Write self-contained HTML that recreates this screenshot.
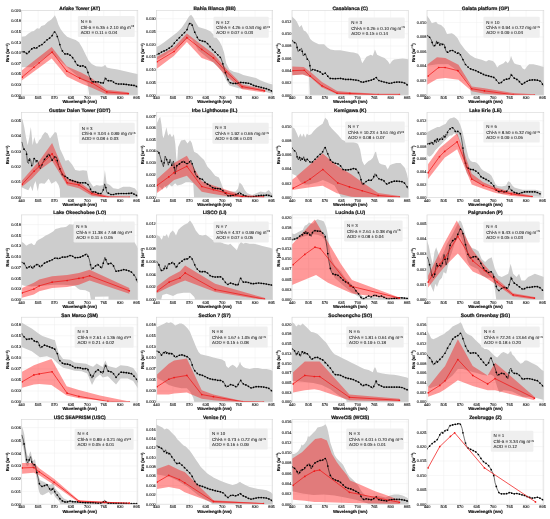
<!DOCTYPE html>
<html><head><meta charset="utf-8"><title>Rrs comparison</title><style>
*{margin:0;padding:0}
html,body{width:550px;height:519px;overflow:hidden;background:#fff}
svg{display:block}
text{font-family:"Liberation Sans",Arial,sans-serif;text-rendering:geometricPrecision}
.tt{font-size:4.88px;font-weight:bold;text-anchor:middle;fill:#111;stroke:#111;stroke-width:0.2}
.yk{font-size:3.9px;text-anchor:end;fill:#222;stroke:#222;stroke-width:0.12}
.xk{font-size:3.9px;text-anchor:middle;fill:#222;stroke:#222;stroke-width:0.12}
.xl{font-size:4.3px;font-weight:bold;text-anchor:middle;fill:#111;stroke:#111;stroke-width:0.15}
.yl{font-size:4.3px;font-weight:bold;text-anchor:middle;fill:#111;stroke:#111;stroke-width:0.15}
.lg{font-size:4.45px;fill:#1a1a1a;stroke:#1a1a1a;stroke-width:0.05}
</style></head><body>
<svg width="550" height="519" viewBox="0 0 550 519">
<rect width="550" height="519" fill="#fff"/>
<defs>
<clipPath id="c1"><rect x="21.5" y="10.3" width="116.3" height="84.8"/></clipPath>
<clipPath id="c2"><rect x="156.4" y="10.3" width="116.3" height="84.8"/></clipPath>
<clipPath id="c3"><rect x="292" y="10.3" width="116.3" height="84.8"/></clipPath>
<clipPath id="c4"><rect x="427" y="10.3" width="116.8" height="84.8"/></clipPath>
<clipPath id="c5"><rect x="21.5" y="112.6" width="116.3" height="84.8"/></clipPath>
<clipPath id="c6"><rect x="156.4" y="112.6" width="116.3" height="84.8"/></clipPath>
<clipPath id="c7"><rect x="292" y="112.6" width="116.3" height="84.8"/></clipPath>
<clipPath id="c8"><rect x="427" y="112.6" width="116.8" height="84.8"/></clipPath>
<clipPath id="c9"><rect x="21.5" y="214.9" width="116.3" height="84.8"/></clipPath>
<clipPath id="c10"><rect x="156.4" y="214.9" width="116.3" height="84.8"/></clipPath>
<clipPath id="c11"><rect x="292" y="214.9" width="116.3" height="84.8"/></clipPath>
<clipPath id="c12"><rect x="427" y="214.9" width="116.8" height="84.8"/></clipPath>
<clipPath id="c13"><rect x="21.5" y="317.2" width="116.3" height="84.8"/></clipPath>
<clipPath id="c14"><rect x="156.4" y="317.2" width="116.3" height="84.8"/></clipPath>
<clipPath id="c15"><rect x="292" y="317.2" width="116.3" height="84.8"/></clipPath>
<clipPath id="c16"><rect x="427" y="317.2" width="116.8" height="84.8"/></clipPath>
<clipPath id="c17"><rect x="21.5" y="419.4" width="116.3" height="84.8"/></clipPath>
<clipPath id="c18"><rect x="156.4" y="419.4" width="116.3" height="84.8"/></clipPath>
<clipPath id="c19"><rect x="292" y="419.4" width="116.3" height="84.8"/></clipPath>
<clipPath id="c20"><rect x="427" y="419.4" width="116.8" height="84.8"/></clipPath>
</defs>
<g>
<rect x="21.5" y="10.3" width="116.3" height="84.8" fill="#fff"/>
<path d="M21.7 10.3V95.1M38.11 10.3V95.1M54.52 10.3V95.1M70.94 10.3V95.1M87.35 10.3V95.1M103.76 10.3V95.1M120.17 10.3V95.1M136.58 10.3V95.1M21.5 10.5H137.8M21.5 21.07H137.8M21.5 31.65H137.8M21.5 42.22H137.8M21.5 52.8H137.8M21.5 63.38H137.8M21.5 73.95H137.8M21.5 84.52H137.8M21.5 95.1H137.8" stroke="#eeeeee" stroke-width="0.5" fill="none"/>
<g clip-path="url(#c1)">
<path d="M21 36.81 L25.29 36.16 L28.51 33.59 L31.73 31.45 L33.87 31.02 L37.09 28.23 L39.24 28.87 L41.38 26.08 L44.6 25.01 L47.82 21.8 L51.04 19.65 L53.18 17.51 L54.9 15.36 L56.4 18.58 L58.55 25.01 L60.69 29.3 L63.91 33.59 L67.13 36.81 L71.42 38.52 L75.71 40.02 L78.93 42.17 L82.15 47.53 L85.36 53.97 L88.58 60.4 L91.8 64.04 L96.09 66.19 L101.45 66.83 L103.6 66.19 L105.1 64.69 L106.82 67.48 L111.11 68.55 L117.55 69.62 L123.98 71.12 L130.42 72.62 L139 74.34 L139 100.07 L89.87 100.07 L87.51 82.92 L81.07 79.27 L64.77 65.12 L51.68 53.11 L42.88 59.11 L31.94 67.26 L21 67.26 Z" fill="#cdcdcd"/>
<path d="M21 71.12 L51.68 47.1 L66.7 66.19 L81.07 72.62 L91.8 78.2 L106.82 89.78 L128.27 92.35 L128.27 95.36 L106.82 94.5 L91.8 87.64 L81.07 83.56 L66.7 76.48 L51.68 58.47 L21 80.99 Z" fill="#ff0000" fill-opacity="0.4"/>
<path d="M21 51.82 L24.22 51.82 L27.44 53.97 L30.65 49.68 L33.87 47.53 L36.02 48.6 L38.16 46.46 L40.31 45.39 L42.45 44.31 L44.6 42.17 L46.75 40.02 L49.96 37.88 L52.11 35.74 L54.25 31.45 L56.4 34.02 L58.55 40.02 L60.69 47.53 L62.84 51.82 L64.98 53.97 L68.2 53.97 L71.42 56.11 L74.64 60.4 L76.78 64.69 L80 66.19 L83.22 65.76 L86.44 67.91 L88.58 74.34 L91.8 81.85 L95.02 81.85 L98.24 81.85 L101.45 82.92 L103.6 82.92 L105.1 77.56 L106.82 80.34 L108.96 80.77 L112.18 80.77 L114.33 82.92 L117.55 83.99 L121.84 83.99 L126.13 84.42 L130.42 85.06 L134.71 85.49 L137.93 87.21" stroke="#000" stroke-width="0.55" fill="none" stroke-linejoin="round"/>
<g fill="#000"><circle cx="21.5" cy="51.82" r="0.85"/><circle cx="24.06" cy="51.82" r="0.85"/><circle cx="26.61" cy="53.42" r="0.85"/><circle cx="29.17" cy="51.66" r="0.85"/><circle cx="31.72" cy="48.96" r="0.85"/><circle cx="34.28" cy="47.73" r="0.85"/><circle cx="36.84" cy="47.79" r="0.85"/><circle cx="39.39" cy="45.84" r="0.85"/><circle cx="41.95" cy="44.57" r="0.85"/><circle cx="44.5" cy="42.27" r="0.85"/><circle cx="47.06" cy="39.82" r="0.85"/><circle cx="49.62" cy="38.11" r="0.85"/><circle cx="52.17" cy="35.61" r="0.85"/><circle cx="54.73" cy="32.01" r="0.85"/><circle cx="57.28" cy="36.5" r="0.85"/><circle cx="59.84" cy="44.56" r="0.85"/><circle cx="62.4" cy="50.94" r="0.85"/><circle cx="64.95" cy="53.94" r="0.85"/><circle cx="67.51" cy="53.97" r="0.85"/><circle cx="70.06" cy="55.21" r="0.85"/><circle cx="72.62" cy="57.71" r="0.85"/><circle cx="75.18" cy="61.48" r="0.85"/><circle cx="77.73" cy="65.13" r="0.85"/><circle cx="80.29" cy="66.15" r="0.85"/><circle cx="82.85" cy="65.81" r="0.85"/><circle cx="85.4" cy="67.22" r="0.85"/><circle cx="87.96" cy="72.47" r="0.85"/><circle cx="90.51" cy="78.84" r="0.85"/><circle cx="93.07" cy="81.85" r="0.85"/><circle cx="95.63" cy="81.85" r="0.85"/><circle cx="98.18" cy="81.85" r="0.85"/><circle cx="100.74" cy="82.68" r="0.85"/><circle cx="103.29" cy="82.92" r="0.85"/><circle cx="105.85" cy="78.77" r="0.85"/><circle cx="108.41" cy="80.66" r="0.85"/><circle cx="110.96" cy="80.77" r="0.85"/><circle cx="113.52" cy="82.11" r="0.85"/><circle cx="116.07" cy="83.5" r="0.85"/><circle cx="118.63" cy="83.99" r="0.85"/><circle cx="121.19" cy="83.99" r="0.85"/><circle cx="123.74" cy="84.18" r="0.85"/><circle cx="126.3" cy="84.44" r="0.85"/><circle cx="128.85" cy="84.83" r="0.85"/><circle cx="131.41" cy="85.16" r="0.85"/><circle cx="133.97" cy="85.42" r="0.85"/><circle cx="136.52" cy="86.46" r="0.85"/></g>
<path d="M22.07 77.13 L33.87 67.26 L39.24 62.76 L52.11 52.03 L66.7 71.12 L79.79 78.2 L91.8 82.92 L106.82 91.93 L128.27 93.64" stroke="#f01818" stroke-width="0.75" fill="none" stroke-linejoin="round"/>
<g fill="#f01818"><circle cx="22.07" cy="77.13" r="0.85"/><circle cx="33.87" cy="67.26" r="0.85"/><circle cx="39.24" cy="62.76" r="0.85"/><circle cx="52.11" cy="52.03" r="0.85"/><circle cx="66.7" cy="71.12" r="0.85"/><circle cx="79.79" cy="78.2" r="0.85"/><circle cx="91.8" cy="82.92" r="0.85"/><circle cx="106.82" cy="91.93" r="0.85"/><circle cx="128.27" cy="93.64" r="0.85"/></g>
</g>
<rect x="21.5" y="10.3" width="116.3" height="84.8" fill="none" stroke="#d6d6d6" stroke-width="0.6"/>
<rect x="77.85" y="16" width="56.85" height="21" rx="1.2" fill="#efefef"/>
<text x="80.65" y="22.8" class="lg">N = 6</text>
<text x="80.65" y="28.6" class="lg">Chl-a = 6.35 ± 2.10 mg m<tspan dy="-1.6" font-size="3">−3</tspan></text>
<text x="80.65" y="33.6" class="lg">AOD = 0.11 ± 0.04</text>
<text x="79.65" y="9.75" class="tt">Ariake Tower (AT)</text>
<text x="20.9" y="11.9" class="yk">0.020</text>
<text x="20.9" y="22.47" class="yk">0.018</text>
<text x="20.9" y="33.05" class="yk">0.015</text>
<text x="20.9" y="43.62" class="yk">0.013</text>
<text x="20.9" y="54.2" class="yk">0.010</text>
<text x="20.9" y="64.78" class="yk">0.007</text>
<text x="20.9" y="75.35" class="yk">0.005</text>
<text x="20.9" y="85.92" class="yk">0.003</text>
<text x="20.9" y="96.5" class="yk">0.000</text>
<text x="21.7" y="99.3" class="xk">440</text>
<text x="38.11" y="99.3" class="xk">505</text>
<text x="54.52" y="99.3" class="xk">570</text>
<text x="70.94" y="99.3" class="xk">635</text>
<text x="87.35" y="99.3" class="xk">700</text>
<text x="103.76" y="99.3" class="xk">765</text>
<text x="120.17" y="99.3" class="xk">830</text>
<text x="136.58" y="99.3" class="xk">895</text>
<text x="79.65" y="103.4" class="xl">Wavelength (nm)</text>
<text transform="translate(9.3 52.7) rotate(-90)" class="yl">Rrs (sr<tspan dy="-1.4" font-size="3">−1</tspan><tspan dy="1.4">)</tspan></text>
</g>
<g>
<rect x="156.4" y="10.3" width="116.3" height="84.8" fill="#fff"/>
<path d="M156.6 10.3V95.1M173.01 10.3V95.1M189.42 10.3V95.1M205.84 10.3V95.1M222.25 10.3V95.1M238.66 10.3V95.1M255.07 10.3V95.1M271.48 10.3V95.1M156.4 18.7H272.7M156.4 31.43H272.7M156.4 44.17H272.7M156.4 56.9H272.7M156.4 69.63H272.7M156.4 82.37H272.7M156.4 95.1H272.7" stroke="#eeeeee" stroke-width="0.5" fill="none"/>
<g clip-path="url(#c2)">
<path d="M156 47.25 L160.25 45.12 L164.51 41.93 L168.76 38.74 L173.02 35.54 L177.27 32.35 L181.53 28.09 L185.78 21.71 L188.97 16.39 L191.1 14.68 L193.23 17.45 L195.35 21.71 L198.55 27.03 L201.74 28.09 L205.99 29.16 L210.25 31.29 L213.44 34.48 L216.63 37.67 L219.82 41.93 L221.95 46.19 L224.07 52.57 L226.2 63.22 L229.39 69.6 L233.65 71.73 L237.9 72.8 L240.03 73.44 L243.22 74.93 L247.47 75.99 L251.73 77.05 L255.98 78.12 L260.24 80.25 L264.49 81.95 L268.75 83.44 L273 84.5 L273 94.08 L262.36 90.89 L251.73 89.19 L241.09 88.76 L236.84 87.7 L229.39 85.57 L226.2 80.25 L221.95 71.73 L217.69 66.41 L211.31 61.09 L204.93 55.77 L198.55 50.45 L192.16 39.8 L188.97 37.67 L185.78 39.8 L181.53 44.06 L177.27 47.25 L173.02 50.45 L168.76 52.57 L164.51 55.77 L160.25 57.9 L156 60.02 Z" fill="#cdcdcd"/>
<path d="M157.06 56.83 L174.08 47.25 L186.85 33.42 L201.74 45.12 L213.44 53.64 L226.2 68.54 L242.15 84.5 L264.49 89.19 L264.49 92.59 L242.15 89.19 L226.2 75.99 L213.44 62.15 L201.74 57.9 L186.85 41.93 L174.08 55.77 L157.06 68.54 Z" fill="#ff0000" fill-opacity="0.4"/>
<path d="M156 54.7 L159.19 53.64 L162.38 51.51 L165.57 50.45 L168.76 48.32 L171.95 46.19 L175.15 41.93 L177.27 39.8 L180.46 36.61 L183.65 33.42 L186.85 30.22 L188.97 23.84 L191.1 23.2 L192.59 25.97 L194.29 31.29 L196.42 35.54 L198.55 39.8 L201.74 40.87 L204.93 41.5 L208.12 44.06 L211.31 48.32 L214.5 51.51 L217.69 54.7 L220.88 57.9 L223.01 64.28 L225.14 71.73 L227.26 78.12 L229.39 82.38 L232.58 83.44 L236.84 83.44 L241.09 82.38 L245.35 82.8 L249.6 83.44 L253.85 85.57 L258.11 86.63 L262.36 87.7 L266.62 88.76 L270.87 90.47 L273 91.96" stroke="#000" stroke-width="0.55" fill="none" stroke-linejoin="round"/>
<g fill="#000"><circle cx="156.4" cy="54.57" r="0.85"/><circle cx="158.96" cy="53.72" r="0.85"/><circle cx="161.51" cy="52.09" r="0.85"/><circle cx="164.07" cy="50.95" r="0.85"/><circle cx="166.62" cy="49.74" r="0.85"/><circle cx="169.18" cy="48.04" r="0.85"/><circle cx="171.74" cy="46.33" r="0.85"/><circle cx="174.29" cy="43.07" r="0.85"/><circle cx="176.85" cy="40.23" r="0.85"/><circle cx="179.4" cy="37.67" r="0.85"/><circle cx="181.96" cy="35.11" r="0.85"/><circle cx="184.52" cy="32.55" r="0.85"/><circle cx="187.07" cy="29.54" r="0.85"/><circle cx="189.63" cy="23.64" r="0.85"/><circle cx="192.18" cy="25.21" r="0.85"/><circle cx="194.74" cy="32.19" r="0.85"/><circle cx="197.3" cy="37.3" r="0.85"/><circle cx="199.85" cy="40.24" r="0.85"/><circle cx="202.41" cy="41" r="0.85"/><circle cx="204.96" cy="41.54" r="0.85"/><circle cx="207.52" cy="43.58" r="0.85"/><circle cx="210.08" cy="46.67" r="0.85"/><circle cx="212.63" cy="49.64" r="0.85"/><circle cx="215.19" cy="52.2" r="0.85"/><circle cx="217.75" cy="54.76" r="0.85"/><circle cx="220.3" cy="57.31" r="0.85"/><circle cx="222.86" cy="63.83" r="0.85"/><circle cx="225.41" cy="72.56" r="0.85"/><circle cx="227.97" cy="79.53" r="0.85"/><circle cx="230.53" cy="82.75" r="0.85"/><circle cx="233.08" cy="83.44" r="0.85"/><circle cx="235.64" cy="83.44" r="0.85"/><circle cx="238.19" cy="83.1" r="0.85"/><circle cx="240.75" cy="82.46" r="0.85"/><circle cx="243.31" cy="82.6" r="0.85"/><circle cx="245.86" cy="82.88" r="0.85"/><circle cx="248.42" cy="83.26" r="0.85"/><circle cx="250.97" cy="84.13" r="0.85"/><circle cx="253.53" cy="85.41" r="0.85"/><circle cx="256.09" cy="86.13" r="0.85"/><circle cx="258.64" cy="86.77" r="0.85"/><circle cx="261.2" cy="87.41" r="0.85"/><circle cx="263.75" cy="88.05" r="0.85"/><circle cx="266.31" cy="88.69" r="0.85"/><circle cx="268.87" cy="89.66" r="0.85"/><circle cx="271.42" cy="90.85" r="0.85"/></g>
<path d="M157.06 61.73 L174.08 51.51 L186.85 37.67 L201.74 49.38 L213.44 57.9 L226.2 71.73 L242.15 86.63 L264.49 90.89" stroke="#f01818" stroke-width="0.75" fill="none" stroke-linejoin="round"/>
<g fill="#f01818"><circle cx="157.06" cy="61.73" r="0.85"/><circle cx="174.08" cy="51.51" r="0.85"/><circle cx="186.85" cy="37.67" r="0.85"/><circle cx="201.74" cy="49.38" r="0.85"/><circle cx="213.44" cy="57.9" r="0.85"/><circle cx="226.2" cy="71.73" r="0.85"/><circle cx="242.15" cy="86.63" r="0.85"/><circle cx="264.49" cy="90.89" r="0.85"/></g>
</g>
<rect x="156.4" y="10.3" width="116.3" height="84.8" fill="none" stroke="#d6d6d6" stroke-width="0.6"/>
<rect x="213.44" y="16.81" width="55.31" height="21" rx="1.2" fill="#efefef"/>
<text x="216.24" y="23.61" class="lg">N = 12</text>
<text x="216.24" y="29.41" class="lg">Chl-a = 4.26 ± 0.53 mg m<tspan dy="-1.6" font-size="3">−3</tspan></text>
<text x="216.24" y="34.41" class="lg">AOD = 0.07 ± 0.03</text>
<text x="214.55" y="9.75" class="tt">Bahia Blanca (BB)</text>
<text x="155.8" y="20.1" class="yk">0.030</text>
<text x="155.8" y="32.83" class="yk">0.025</text>
<text x="155.8" y="45.57" class="yk">0.020</text>
<text x="155.8" y="58.3" class="yk">0.015</text>
<text x="155.8" y="71.03" class="yk">0.010</text>
<text x="155.8" y="83.77" class="yk">0.005</text>
<text x="155.8" y="96.5" class="yk">0.000</text>
<text x="156.6" y="99.3" class="xk">440</text>
<text x="173.01" y="99.3" class="xk">505</text>
<text x="189.42" y="99.3" class="xk">570</text>
<text x="205.84" y="99.3" class="xk">635</text>
<text x="222.25" y="99.3" class="xk">700</text>
<text x="238.66" y="99.3" class="xk">765</text>
<text x="255.07" y="99.3" class="xk">830</text>
<text x="271.48" y="99.3" class="xk">895</text>
<text x="214.55" y="103.4" class="xl">Wavelength (nm)</text>
<text transform="translate(144.2 52.7) rotate(-90)" class="yl">Rrs (sr<tspan dy="-1.4" font-size="3">−1</tspan><tspan dy="1.4">)</tspan></text>
</g>
<g>
<rect x="292" y="10.3" width="116.3" height="84.8" fill="#fff"/>
<path d="M292.2 10.3V95.1M308.61 10.3V95.1M325.02 10.3V95.1M341.44 10.3V95.1M357.85 10.3V95.1M374.26 10.3V95.1M390.67 10.3V95.1M407.08 10.3V95.1M292 21.5H408.3M292 33.77H408.3M292 46.03H408.3M292 58.3H408.3M292 70.57H408.3M292 82.83H408.3M292 95.1H408.3" stroke="#eeeeee" stroke-width="0.5" fill="none"/>
<g clip-path="url(#c3)">
<path d="M292 16.39 L295.19 19.58 L296.89 21.71 L299.45 27.24 L301.57 25.11 L303.7 30.44 L305.83 31.5 L308.17 34.69 L310.29 38.95 L312.42 41.08 L314.55 42.14 L318.8 44.27 L324.12 44.27 L327.31 47.47 L330.5 49.59 L334.97 50.23 L340.29 50.23 L345.61 51.3 L350.93 52.36 L353.69 52.57 L357.95 53.64 L360.07 56.83 L362.2 63.22 L364.33 60.02 L366.45 56.83 L368.58 55.77 L370.71 54.7 L372.84 55.77 L374.96 49.38 L377.09 54.7 L379.22 55.77 L381.35 56.83 L384.54 57.9 L387.73 61.09 L389.85 64.28 L391.98 61.09 L394.11 59.39 L398.36 58.96 L402.62 58.53 L406.87 58.96 L409 59.39 L409 99.41 L309.87 99.41 L309.02 76.42 L302.64 74.5 L292 75.14 Z" fill="#cdcdcd"/>
<path d="M292 66.41 L303.7 67.05 L310.29 71.73 L321.99 81.95 L337.1 91.1 L350.93 92.17 L378.15 93.66 L399.43 93.87 L399.43 95.57 L378.15 95.57 L350.93 94.94 L337.1 94.3 L321.99 87.49 L310.29 77.27 L302.64 74.5 L292 75.14 Z" fill="#ff0000" fill-opacity="0.4"/>
<path d="M292 40.65 L294.77 42.78 L296.25 43.21 L297.96 51.51 L301.57 48.32 L303.27 55.98 L305.4 53.64 L307.1 58.96 L309.23 61.09 L310.72 71.31 L312.85 69.18 L316.68 70.67 L319.87 71.73 L323.06 74.5 L325.19 73.01 L327.31 75.56 L329.44 78.33 L334.97 78.76 L340.29 78.33 L345.61 79.4 L350.93 79.4 L353.69 79.82 L357.95 80.25 L362.2 82.38 L366.45 81.31 L370.71 80.25 L373.9 79.18 L376.03 77.05 L378.15 80.25 L381.35 81.31 L385.6 82.38 L389.85 83.44 L394.11 82.38 L398.36 81.95 L402.62 82.38 L405.81 83.44 L407.94 85.57" stroke="#000" stroke-width="0.55" fill="none" stroke-linejoin="round"/>
<g fill="#000"><circle cx="292" cy="40.65" r="0.85"/><circle cx="294.56" cy="42.62" r="0.85"/><circle cx="297.11" cy="47.39" r="0.85"/><circle cx="299.67" cy="50" r="0.85"/><circle cx="302.22" cy="51.25" r="0.85"/><circle cx="304.78" cy="54.32" r="0.85"/><circle cx="307.34" cy="59.19" r="0.85"/><circle cx="309.89" cy="65.63" r="0.85"/><circle cx="312.45" cy="69.58" r="0.85"/><circle cx="315" cy="70.02" r="0.85"/><circle cx="317.56" cy="70.96" r="0.85"/><circle cx="320.12" cy="71.95" r="0.85"/><circle cx="322.67" cy="74.17" r="0.85"/><circle cx="325.23" cy="73.06" r="0.85"/><circle cx="327.78" cy="76.18" r="0.85"/><circle cx="330.34" cy="78.4" r="0.85"/><circle cx="332.9" cy="78.6" r="0.85"/><circle cx="335.45" cy="78.72" r="0.85"/><circle cx="338.01" cy="78.51" r="0.85"/><circle cx="340.56" cy="78.39" r="0.85"/><circle cx="343.12" cy="78.9" r="0.85"/><circle cx="345.68" cy="79.4" r="0.85"/><circle cx="348.23" cy="79.4" r="0.85"/><circle cx="350.79" cy="79.4" r="0.85"/><circle cx="353.35" cy="79.77" r="0.85"/><circle cx="355.9" cy="80.04" r="0.85"/><circle cx="358.46" cy="80.5" r="0.85"/><circle cx="361.01" cy="81.78" r="0.85"/><circle cx="363.57" cy="82.03" r="0.85"/><circle cx="366.13" cy="81.39" r="0.85"/><circle cx="368.68" cy="80.75" r="0.85"/><circle cx="371.24" cy="80.07" r="0.85"/><circle cx="373.79" cy="79.22" r="0.85"/><circle cx="376.35" cy="77.54" r="0.85"/><circle cx="378.91" cy="80.5" r="0.85"/><circle cx="381.46" cy="81.34" r="0.85"/><circle cx="384.02" cy="81.98" r="0.85"/><circle cx="386.57" cy="82.62" r="0.85"/><circle cx="389.13" cy="83.26" r="0.85"/><circle cx="391.69" cy="82.98" r="0.85"/><circle cx="394.24" cy="82.36" r="0.85"/><circle cx="396.8" cy="82.11" r="0.85"/><circle cx="399.35" cy="82.05" r="0.85"/><circle cx="401.91" cy="82.31" r="0.85"/><circle cx="404.47" cy="82.99" r="0.85"/><circle cx="407.02" cy="84.65" r="0.85"/></g>
<path d="M292.64 70.67 L304.34 70.24 L310.29 76.2 L321.99 85.78 L337.1 93.23 L349.86 93.45 L378.15 94.72 L399.43 94.72" stroke="#f01818" stroke-width="0.75" fill="none" stroke-linejoin="round"/>
<g fill="#f01818"><circle cx="292.64" cy="70.67" r="0.85"/><circle cx="304.34" cy="70.24" r="0.85"/><circle cx="310.29" cy="76.2" r="0.85"/><circle cx="321.99" cy="85.78" r="0.85"/><circle cx="337.1" cy="93.23" r="0.85"/><circle cx="349.86" cy="93.45" r="0.85"/><circle cx="378.15" cy="94.72" r="0.85"/><circle cx="399.43" cy="94.72" r="0.85"/></g>
</g>
<rect x="292" y="10.3" width="116.3" height="84.8" fill="none" stroke="#d6d6d6" stroke-width="0.6"/>
<rect x="348.37" y="17.45" width="56.37" height="21" rx="1.2" fill="#efefef"/>
<text x="351.17" y="24.25" class="lg">N = 3</text>
<text x="351.17" y="30.05" class="lg">Chl-a = 0.26 ± 0.10 mg m<tspan dy="-1.6" font-size="3">−3</tspan></text>
<text x="351.17" y="35.05" class="lg">AOD = 0.15 ± 0.14</text>
<text x="350.15" y="9.75" class="tt">Casablanca (C)</text>
<text x="291.4" y="22.9" class="yk">0.012</text>
<text x="291.4" y="35.17" class="yk">0.010</text>
<text x="291.4" y="47.43" class="yk">0.008</text>
<text x="291.4" y="59.7" class="yk">0.006</text>
<text x="291.4" y="71.97" class="yk">0.004</text>
<text x="291.4" y="84.23" class="yk">0.002</text>
<text x="291.4" y="96.5" class="yk">0.000</text>
<text x="292.2" y="99.3" class="xk">440</text>
<text x="308.61" y="99.3" class="xk">505</text>
<text x="325.02" y="99.3" class="xk">570</text>
<text x="341.44" y="99.3" class="xk">635</text>
<text x="357.85" y="99.3" class="xk">700</text>
<text x="374.26" y="99.3" class="xk">765</text>
<text x="390.67" y="99.3" class="xk">830</text>
<text x="407.08" y="99.3" class="xk">895</text>
<text x="350.15" y="103.4" class="xl">Wavelength (nm)</text>
<text transform="translate(279.8 52.7) rotate(-90)" class="yl">Rrs (sr<tspan dy="-1.4" font-size="3">−1</tspan><tspan dy="1.4">)</tspan></text>
</g>
<g>
<rect x="427" y="10.3" width="116.8" height="84.8" fill="#fff"/>
<path d="M427.2 10.3V95.1M443.68 10.3V95.1M460.16 10.3V95.1M476.65 10.3V95.1M493.13 10.3V95.1M509.61 10.3V95.1M526.09 10.3V95.1M542.58 10.3V95.1M427 22.4H543.8M427 36.94H543.8M427 51.48H543.8M427 66.02H543.8M427 80.56H543.8M427 95.1H543.8" stroke="#eeeeee" stroke-width="0.5" fill="none"/>
<g clip-path="url(#c4)">
<path d="M427 15.75 L429.13 18.51 L431.89 23.2 L434.45 22.35 L436.15 21.71 L437.85 24.05 L441.04 24.9 L444.44 28.31 L447 34.05 L451.89 33.2 L454.65 35.12 L457.63 38.31 L460.19 43.21 L465.08 49.81 L470.18 54.92 L475.08 58.11 L481.67 59.81 L486.14 61.51 L488.69 60.02 L492.95 61.09 L495.07 63.22 L497.2 67.48 L499.33 65.35 L501.45 64.28 L503.58 63.22 L505.71 61.09 L507.84 63.22 L509.96 60.02 L511.03 55.77 L512.09 58.96 L514.22 63.22 L516.35 64.28 L520.6 65.35 L522.73 68.54 L524.85 69.6 L526.98 66.41 L529.11 64.28 L533.36 64.28 L537.62 65.35 L541.87 66.41 L544 67.05 L544 99.41 L471.67 99.41 L469.55 84.5 L458.91 71.73 L448.27 64.28 L437.64 64.28 L427 65.77 Z" fill="#cdcdcd"/>
<path d="M427 64.71 L437 57.26 L445.29 58.11 L458.48 64.71 L471.89 86.42 L484.44 88.34 L513.15 93.02 L534.43 94.3 L534.43 96 L513.15 96 L484.44 93.87 L471.89 91.32 L458.48 79.82 L445.29 78.12 L437 78.97 L427 84.72 Z" fill="#ff0000" fill-opacity="0.4"/>
<path d="M427 35.54 L429.13 36.61 L431.25 39.8 L433.38 46.19 L435.51 45.12 L436.57 40.87 L437.64 44.06 L438.7 41.93 L439.76 45.12 L440.83 43 L441.89 44.49 L444.02 44.06 L446.15 51.51 L448.27 52.57 L450.4 50.45 L452.53 50.45 L454.65 51.51 L456.78 53.64 L458.91 52.57 L461.04 55.77 L463.16 60.02 L465.29 64.28 L467.42 66.41 L469.55 68.54 L472.74 69.6 L475.93 70.67 L480.18 72.8 L484.44 74.93 L488.69 75.99 L492.95 77.05 L495.07 78.12 L497.2 81.31 L499.33 83.44 L501.45 82.38 L503.58 80.25 L505.71 79.18 L507.84 79.18 L509.96 78.12 L511.03 73.86 L512.09 75.99 L514.22 78.12 L516.35 79.18 L518.47 80.25 L520.6 83.44 L522.73 84.5 L524.85 82.38 L526.98 81.31 L529.11 80.25 L533.36 79.82 L537.62 80.25 L540.81 81.31 L544 86.63" stroke="#000" stroke-width="0.55" fill="none" stroke-linejoin="round"/>
<g fill="#000"><circle cx="427" cy="35.54" r="0.85"/><circle cx="429.57" cy="37.27" r="0.85"/><circle cx="432.13" cy="42.44" r="0.85"/><circle cx="434.7" cy="45.53" r="0.85"/><circle cx="437.27" cy="42.95" r="0.85"/><circle cx="439.84" cy="44.98" r="0.85"/><circle cx="442.4" cy="44.38" r="0.85"/><circle cx="444.97" cy="47.39" r="0.85"/><circle cx="447.54" cy="52.21" r="0.85"/><circle cx="450.1" cy="50.74" r="0.85"/><circle cx="452.67" cy="50.52" r="0.85"/><circle cx="455.24" cy="52.09" r="0.85"/><circle cx="457.8" cy="53.13" r="0.85"/><circle cx="460.37" cy="54.77" r="0.85"/><circle cx="462.94" cy="59.57" r="0.85"/><circle cx="465.51" cy="64.5" r="0.85"/><circle cx="468.07" cy="67.07" r="0.85"/><circle cx="470.64" cy="68.9" r="0.85"/><circle cx="473.21" cy="69.76" r="0.85"/><circle cx="475.77" cy="70.62" r="0.85"/><circle cx="478.34" cy="71.88" r="0.85"/><circle cx="480.91" cy="73.16" r="0.85"/><circle cx="483.47" cy="74.44" r="0.85"/><circle cx="486.04" cy="75.33" r="0.85"/><circle cx="488.61" cy="75.97" r="0.85"/><circle cx="491.18" cy="76.61" r="0.85"/><circle cx="493.74" cy="77.45" r="0.85"/><circle cx="496.31" cy="79.98" r="0.85"/><circle cx="498.88" cy="82.99" r="0.85"/><circle cx="501.44" cy="82.38" r="0.85"/><circle cx="504.01" cy="80.03" r="0.85"/><circle cx="506.58" cy="79.18" r="0.85"/><circle cx="509.15" cy="78.53" r="0.85"/><circle cx="511.71" cy="75.23" r="0.85"/><circle cx="514.28" cy="78.15" r="0.85"/><circle cx="516.85" cy="79.43" r="0.85"/><circle cx="519.41" cy="81.66" r="0.85"/><circle cx="521.98" cy="84.13" r="0.85"/><circle cx="524.55" cy="82.68" r="0.85"/><circle cx="527.11" cy="81.25" r="0.85"/><circle cx="529.68" cy="80.19" r="0.85"/><circle cx="532.25" cy="79.93" r="0.85"/><circle cx="534.82" cy="79.97" r="0.85"/><circle cx="537.38" cy="80.22" r="0.85"/><circle cx="539.95" cy="81.03" r="0.85"/><circle cx="542.52" cy="84.16" r="0.85"/></g>
<path d="M428.06 75.99 L438.7 67.48 L445.08 67.48 L457.85 70.67 L471.67 88.76 L484.44 90.89 L513.15 94.72 L534.43 95.15" stroke="#f01818" stroke-width="0.75" fill="none" stroke-linejoin="round"/>
<g fill="#f01818"><circle cx="428.06" cy="75.99" r="0.85"/><circle cx="438.7" cy="67.48" r="0.85"/><circle cx="445.08" cy="67.48" r="0.85"/><circle cx="457.85" cy="70.67" r="0.85"/><circle cx="471.67" cy="88.76" r="0.85"/><circle cx="484.44" cy="90.89" r="0.85"/><circle cx="513.15" cy="94.72" r="0.85"/><circle cx="534.43" cy="95.15" r="0.85"/></g>
</g>
<rect x="427" y="10.3" width="116.8" height="84.8" fill="none" stroke="#d6d6d6" stroke-width="0.6"/>
<rect x="483.37" y="16.81" width="56.37" height="21" rx="1.2" fill="#efefef"/>
<text x="486.17" y="23.61" class="lg">N = 10</text>
<text x="486.17" y="29.41" class="lg">Chl-a = 0.94 ± 0.72 mg m<tspan dy="-1.6" font-size="3">−3</tspan></text>
<text x="486.17" y="34.41" class="lg">AOD = 0.09 ± 0.04</text>
<text x="485.4" y="9.75" class="tt">Galata platform (GP)</text>
<text x="426.4" y="23.8" class="yk">0.010</text>
<text x="426.4" y="38.34" class="yk">0.008</text>
<text x="426.4" y="52.88" class="yk">0.006</text>
<text x="426.4" y="67.42" class="yk">0.004</text>
<text x="426.4" y="81.96" class="yk">0.002</text>
<text x="426.4" y="96.5" class="yk">0.000</text>
<text x="427.2" y="99.3" class="xk">440</text>
<text x="443.68" y="99.3" class="xk">505</text>
<text x="460.16" y="99.3" class="xk">570</text>
<text x="476.65" y="99.3" class="xk">635</text>
<text x="493.13" y="99.3" class="xk">700</text>
<text x="509.61" y="99.3" class="xk">765</text>
<text x="526.09" y="99.3" class="xk">830</text>
<text x="542.58" y="99.3" class="xk">895</text>
<text x="485.4" y="103.4" class="xl">Wavelength (nm)</text>
<text transform="translate(414.8 52.7) rotate(-90)" class="yl">Rrs (sr<tspan dy="-1.4" font-size="3">−1</tspan><tspan dy="1.4">)</tspan></text>
</g>
<g>
<rect x="21.5" y="112.6" width="116.3" height="84.8" fill="#fff"/>
<path d="M21.7 112.6V197.4M38.11 112.6V197.4M54.52 112.6V197.4M70.94 112.6V197.4M87.35 112.6V197.4M103.76 112.6V197.4M120.17 112.6V197.4M136.58 112.6V197.4M21.5 120.7H137.8M21.5 136.04H137.8M21.5 151.38H137.8M21.5 166.72H137.8M21.5 182.06H137.8M21.5 197.4H137.8" stroke="#eeeeee" stroke-width="0.5" fill="none"/>
<g clip-path="url(#c5)">
<path d="M21 116.93 L22.72 120.36 L24.22 127.01 L25.93 136.88 L27.65 145.24 L29.37 136.88 L30.01 131.95 L30.87 127.01 L31.73 135.16 L32.59 145.24 L34.3 136.88 L36.02 143.53 L37.52 143.53 L39.24 140.09 L40.95 138.59 L42.45 135.16 L45.03 131.95 L47.6 133.45 L49.96 138.59 L52.54 135.16 L54.9 131.95 L56.61 132.8 L59.19 145.24 L60.05 149.1 L63.05 155.32 L65.41 160.68 L68.41 160.04 L72.28 164.76 L75.28 169.91 L79.36 170.76 L83 170.33 L86.87 170.76 L88.58 179.99 L89.87 181.7 L93.3 186.63 L96.52 184.92 L99.95 185.78 L103.17 184.92 L104.89 170.12 L106.6 183.2 L109.82 184.92 L113.25 188.35 L118.19 188.99 L123.12 186.63 L129.77 186.63 L134.71 188.35 L139 193.28 L139 202.07 L60.26 202.07 L59.83 189.21 L58.55 184.92 L55.97 181.06 L51.47 183.85 L48.68 178.7 L44.6 183.85 L41.38 183.2 L39.24 183.85 L37.73 191.35 L35.59 181.06 L33.87 184.92 L32.59 191.35 L30.65 185.99 L28.29 190.28 L24.65 188.78 L21 187.06 Z" fill="#cdcdcd"/>
<path d="M21 181.7 L35.59 164.97 L39.24 160.9 L52.11 143.1 L67.13 178.48 L78.93 181.7 L91.8 191.35 L107.89 196.07 L129.35 196.5 L129.35 198 L107.89 198 L91.8 195.64 L78.93 188.13 L67.13 185.35 L52.11 160.9 L40.74 169.26 L31.94 178.7 L21 187.49 Z" fill="#ff0000" fill-opacity="0.4"/>
<path d="M21 142.02 L22.07 143.1 L23.15 147.39 L24.22 149.53 L25.29 150.6 L26.36 151.68 L27.44 162.4 L28.51 163.47 L29.58 158.11 L30.65 160.25 L31.73 165.62 L32.8 164.54 L33.87 158.11 L34.95 159.18 L36.02 162.4 L37.09 160.25 L38.16 162.4 L40.31 168.83 L42.45 163.47 L44.6 159.18 L46.75 157.04 L48.46 153.82 L49.96 155.97 L52.11 160.25 L54.25 157.04 L56.4 157.04 L58.55 165.62 L60.69 170.98 L62.84 175.27 L64.98 176.34 L67.13 177.41 L69.27 179.56 L72.49 180.63 L75.71 181.7 L78.93 182.77 L82.15 182.77 L85.36 182.77 L87.51 183.85 L89.65 187.06 L91.8 192.42 L93.95 191.35 L96.09 192.42 L98.24 193.5 L101.45 193.5 L103.6 189.21 L104.67 183.85 L105.75 187.06 L106.82 192.42 L108.96 193.5 L111.11 194.57 L113.25 194.57 L115.4 193.93 L119.69 193.5 L123.98 193.5 L128.27 193.5 L132.56 193.07 L134.71 194.57 L137.93 196.07" stroke="#000" stroke-width="0.55" fill="none" stroke-linejoin="round"/>
<g fill="#000"><circle cx="21.5" cy="142.52" r="0.85"/><circle cx="24.06" cy="149.21" r="0.85"/><circle cx="26.61" cy="154.16" r="0.85"/><circle cx="29.17" cy="160.18" r="0.85"/><circle cx="31.72" cy="165.6" r="0.85"/><circle cx="34.28" cy="158.52" r="0.85"/><circle cx="36.84" cy="160.76" r="0.85"/><circle cx="39.39" cy="166.08" r="0.85"/><circle cx="41.95" cy="164.74" r="0.85"/><circle cx="44.5" cy="159.37" r="0.85"/><circle cx="47.06" cy="156.45" r="0.85"/><circle cx="49.62" cy="155.47" r="0.85"/><circle cx="52.17" cy="160.16" r="0.85"/><circle cx="54.73" cy="157.04" r="0.85"/><circle cx="57.28" cy="160.57" r="0.85"/><circle cx="59.84" cy="168.85" r="0.85"/><circle cx="62.4" cy="174.39" r="0.85"/><circle cx="64.95" cy="176.32" r="0.85"/><circle cx="67.51" cy="177.79" r="0.85"/><circle cx="70.06" cy="179.82" r="0.85"/><circle cx="72.62" cy="180.67" r="0.85"/><circle cx="75.18" cy="181.52" r="0.85"/><circle cx="77.73" cy="182.38" r="0.85"/><circle cx="80.29" cy="182.77" r="0.85"/><circle cx="82.85" cy="182.77" r="0.85"/><circle cx="85.4" cy="182.79" r="0.85"/><circle cx="87.96" cy="184.52" r="0.85"/><circle cx="90.51" cy="189.21" r="0.85"/><circle cx="93.07" cy="191.79" r="0.85"/><circle cx="95.63" cy="192.19" r="0.85"/><circle cx="98.18" cy="193.47" r="0.85"/><circle cx="100.74" cy="193.5" r="0.85"/><circle cx="103.29" cy="189.82" r="0.85"/><circle cx="105.85" cy="187.58" r="0.85"/><circle cx="108.41" cy="193.22" r="0.85"/><circle cx="110.96" cy="194.49" r="0.85"/><circle cx="113.52" cy="194.49" r="0.85"/><circle cx="116.07" cy="193.86" r="0.85"/><circle cx="118.63" cy="193.6" r="0.85"/><circle cx="121.19" cy="193.5" r="0.85"/><circle cx="123.74" cy="193.5" r="0.85"/><circle cx="126.3" cy="193.5" r="0.85"/><circle cx="128.85" cy="193.44" r="0.85"/><circle cx="131.41" cy="193.18" r="0.85"/><circle cx="133.97" cy="194.05" r="0.85"/><circle cx="136.52" cy="195.41" r="0.85"/></g>
<path d="M22.07 184.27 L34.09 171.19 L39.24 166.47 L52.11 153.82 L67.13 182.77 L78.93 184.92 L91.8 193.5 L107.89 197.36 L129.35 197.36" stroke="#f01818" stroke-width="0.75" fill="none" stroke-linejoin="round"/>
<g fill="#f01818"><circle cx="22.07" cy="184.27" r="0.85"/><circle cx="34.09" cy="171.19" r="0.85"/><circle cx="39.24" cy="166.47" r="0.85"/><circle cx="52.11" cy="153.82" r="0.85"/><circle cx="67.13" cy="182.77" r="0.85"/><circle cx="78.93" cy="184.92" r="0.85"/><circle cx="91.8" cy="193.5" r="0.85"/><circle cx="107.89" cy="197.36" r="0.85"/><circle cx="129.35" cy="197.36" r="0.85"/></g>
</g>
<rect x="21.5" y="112.6" width="116.3" height="84.8" fill="none" stroke="#d6d6d6" stroke-width="0.6"/>
<rect x="78.93" y="122.72" width="55.78" height="21" rx="1.2" fill="#efefef"/>
<text x="81.73" y="129.52" class="lg">N = 3</text>
<text x="81.73" y="135.32" class="lg">Chl-a = 3.04 ± 0.89 mg m<tspan dy="-1.6" font-size="3">−3</tspan></text>
<text x="81.73" y="140.32" class="lg">AOD = 0.08 ± 0.03</text>
<text x="79.65" y="112.05" class="tt">Gustav Dalen Tower (GDT)</text>
<text x="20.9" y="122.1" class="yk">0.005</text>
<text x="20.9" y="137.44" class="yk">0.004</text>
<text x="20.9" y="152.78" class="yk">0.003</text>
<text x="20.9" y="168.12" class="yk">0.002</text>
<text x="20.9" y="183.46" class="yk">0.001</text>
<text x="20.9" y="198.8" class="yk">0.000</text>
<text x="21.7" y="201.6" class="xk">440</text>
<text x="38.11" y="201.6" class="xk">505</text>
<text x="54.52" y="201.6" class="xk">570</text>
<text x="70.94" y="201.6" class="xk">635</text>
<text x="87.35" y="201.6" class="xk">700</text>
<text x="103.76" y="201.6" class="xk">765</text>
<text x="120.17" y="201.6" class="xk">830</text>
<text x="136.58" y="201.6" class="xk">895</text>
<text x="79.65" y="205.7" class="xl">Wavelength (nm)</text>
<text transform="translate(9.3 155) rotate(-90)" class="yl">Rrs (sr<tspan dy="-1.4" font-size="3">−1</tspan><tspan dy="1.4">)</tspan></text>
</g>
<g>
<rect x="156.4" y="112.6" width="116.3" height="84.8" fill="#fff"/>
<path d="M156.6 112.6V197.4M173.01 112.6V197.4M189.42 112.6V197.4M205.84 112.6V197.4M222.25 112.6V197.4M238.66 112.6V197.4M255.07 112.6V197.4M271.48 112.6V197.4M156.4 116.1H272.7M156.4 127.71H272.7M156.4 139.33H272.7M156.4 150.94H272.7M156.4 162.56H272.7M156.4 174.17H272.7M156.4 185.79H272.7M156.4 197.4H272.7" stroke="#eeeeee" stroke-width="0.5" fill="none"/>
<g clip-path="url(#c6)">
<path d="M156 124.77 L157.7 121.58 L158.98 118.39 L160.25 116.9 L161.53 124.77 L162.59 135.2 L163.45 138.18 L164.93 133.29 L166.42 127.33 L168.13 135.84 L170.04 133.5 L171.95 137.33 L173.87 134.35 L175.36 144.36 L176.21 156.7 L177.06 163.51 L178.12 147.12 L181.1 140.52 L184.93 139.67 L187.48 143.5 L190.04 140.31 L191.74 142.65 L194.08 151.81 L197.48 153.51 L200.89 156.92 L204.08 160.11 L207.48 166.71 L210.67 170.11 L215.14 175.86 L218.97 177.56 L220.88 182.25 L223.86 190.12 L230.45 191.61 L235.56 191.61 L237.9 188.63 L239.6 182.46 L242.15 185.01 L244.71 190.12 L247.26 193.32 L252.15 195.02 L260.45 191.61 L265.34 192.47 L268.75 190.12 L273 195.02 L273 201.41 L194.29 201.41 L193.23 183.31 L190.04 182.25 L185.78 182.25 L181.53 184.38 L177.27 185.44 L175.15 183.31 L171.95 186.5 L169.19 184.38 L166.64 188.63 L164.51 185.44 L162.38 189.7 L159.4 186.5 L158.13 190.76 L156 192.89 Z" fill="#cdcdcd"/>
<path d="M157.06 179.05 L168.76 168.41 L174.08 163.09 L186.85 155.64 L201.74 181.18 L213.44 185.44 L226.2 189.7 L242.15 195.02 L263.43 196.3 L263.43 198 L242.15 198 L226.2 196.08 L213.44 193.96 L201.74 191.83 L186.85 175.86 L174.08 180.12 L168.76 184.38 L157.06 192.89 Z" fill="#ff0000" fill-opacity="0.4"/>
<path d="M156 150.96 L158.55 151.81 L160.04 156.06 L161.74 161.81 L163.45 166.71 L165.15 156.06 L166.85 160.11 L168.34 165.22 L170.04 159.26 L171.74 165.22 L173.44 160.96 L175.15 174.16 L176.63 165.86 L180.04 163.51 L183.44 160.96 L185.78 163.51 L188.33 163.51 L190.89 160.11 L193.23 166.71 L195.78 175.01 L199.18 178.42 L202.37 179.27 L205.78 183.31 L209.18 185.01 L212.37 187.57 L215.14 188.42 L219.82 188.63 L223.01 190.76 L226.2 193.96 L228.33 196.08 L231.52 195.45 L234.71 195.02 L237.9 193.96 L239.39 191.83 L241.09 193.96 L243.22 195.02 L247.47 196.72 L251.73 197.15 L255.98 196.08 L260.24 195.45 L264.49 195.45 L267.68 195.02 L270.87 196.08 L273 197.15" stroke="#000" stroke-width="0.55" fill="none" stroke-linejoin="round"/>
<g fill="#000"><circle cx="156.4" cy="151.09" r="0.85"/><circle cx="158.96" cy="152.96" r="0.85"/><circle cx="161.51" cy="161.03" r="0.85"/><circle cx="164.07" cy="162.81" r="0.85"/><circle cx="166.62" cy="159.57" r="0.85"/><circle cx="169.18" cy="162.27" r="0.85"/><circle cx="171.74" cy="165.2" r="0.85"/><circle cx="174.29" cy="167.54" r="0.85"/><circle cx="176.85" cy="165.71" r="0.85"/><circle cx="179.4" cy="163.95" r="0.85"/><circle cx="181.96" cy="162.07" r="0.85"/><circle cx="184.52" cy="162.13" r="0.85"/><circle cx="187.07" cy="163.51" r="0.85"/><circle cx="189.63" cy="161.79" r="0.85"/><circle cx="192.18" cy="163.77" r="0.85"/><circle cx="194.74" cy="171.63" r="0.85"/><circle cx="197.3" cy="176.53" r="0.85"/><circle cx="199.85" cy="178.59" r="0.85"/><circle cx="202.41" cy="179.31" r="0.85"/><circle cx="204.96" cy="182.35" r="0.85"/><circle cx="207.52" cy="184.18" r="0.85"/><circle cx="210.08" cy="185.73" r="0.85"/><circle cx="212.63" cy="187.65" r="0.85"/><circle cx="215.19" cy="188.42" r="0.85"/><circle cx="217.75" cy="188.54" r="0.85"/><circle cx="220.3" cy="188.96" r="0.85"/><circle cx="222.86" cy="190.66" r="0.85"/><circle cx="225.41" cy="193.17" r="0.85"/><circle cx="227.97" cy="195.73" r="0.85"/><circle cx="230.53" cy="195.64" r="0.85"/><circle cx="233.08" cy="195.24" r="0.85"/><circle cx="235.64" cy="194.71" r="0.85"/><circle cx="238.19" cy="193.54" r="0.85"/><circle cx="240.75" cy="193.53" r="0.85"/><circle cx="243.31" cy="195.05" r="0.85"/><circle cx="245.86" cy="196.08" r="0.85"/><circle cx="248.42" cy="196.82" r="0.85"/><circle cx="250.97" cy="197.07" r="0.85"/><circle cx="253.53" cy="196.7" r="0.85"/><circle cx="256.09" cy="196.07" r="0.85"/><circle cx="258.64" cy="195.68" r="0.85"/><circle cx="261.2" cy="195.45" r="0.85"/><circle cx="263.75" cy="195.45" r="0.85"/><circle cx="266.31" cy="195.2" r="0.85"/><circle cx="268.87" cy="195.41" r="0.85"/><circle cx="271.42" cy="196.36" r="0.85"/></g>
<path d="M157.06 185.44 L168.76 176.93 L174.08 172.67 L186.85 166.28 L201.74 186.5 L213.44 189.7 L226.2 192.89 L242.15 196.72 L263.43 197.15" stroke="#f01818" stroke-width="0.75" fill="none" stroke-linejoin="round"/>
<g fill="#f01818"><circle cx="157.06" cy="185.44" r="0.85"/><circle cx="168.76" cy="176.93" r="0.85"/><circle cx="174.08" cy="172.67" r="0.85"/><circle cx="186.85" cy="166.28" r="0.85"/><circle cx="201.74" cy="186.5" r="0.85"/><circle cx="213.44" cy="189.7" r="0.85"/><circle cx="226.2" cy="192.89" r="0.85"/><circle cx="242.15" cy="196.72" r="0.85"/><circle cx="263.43" cy="197.15" r="0.85"/></g>
</g>
<rect x="156.4" y="112.6" width="116.3" height="84.8" fill="none" stroke="#d6d6d6" stroke-width="0.6"/>
<rect x="212.37" y="122.64" width="56.37" height="21" rx="1.2" fill="#efefef"/>
<text x="215.17" y="129.44" class="lg">N = 3</text>
<text x="215.17" y="135.24" class="lg">Chl-a = 1.92 ± 0.65 mg m<tspan dy="-1.6" font-size="3">−3</tspan></text>
<text x="215.17" y="140.24" class="lg">AOD = 0.08 ± 0.03</text>
<text x="214.55" y="112.05" class="tt">Irbe Lighthouse (IL)</text>
<text x="155.8" y="117.5" class="yk">0.007</text>
<text x="155.8" y="129.11" class="yk">0.006</text>
<text x="155.8" y="140.73" class="yk">0.005</text>
<text x="155.8" y="152.34" class="yk">0.004</text>
<text x="155.8" y="163.96" class="yk">0.003</text>
<text x="155.8" y="175.57" class="yk">0.002</text>
<text x="155.8" y="187.19" class="yk">0.001</text>
<text x="155.8" y="198.8" class="yk">0.000</text>
<text x="156.6" y="201.6" class="xk">440</text>
<text x="173.01" y="201.6" class="xk">505</text>
<text x="189.42" y="201.6" class="xk">570</text>
<text x="205.84" y="201.6" class="xk">635</text>
<text x="222.25" y="201.6" class="xk">700</text>
<text x="238.66" y="201.6" class="xk">765</text>
<text x="255.07" y="201.6" class="xk">830</text>
<text x="271.48" y="201.6" class="xk">895</text>
<text x="214.55" y="205.7" class="xl">Wavelength (nm)</text>
<text transform="translate(144.2 155) rotate(-90)" class="yl">Rrs (sr<tspan dy="-1.4" font-size="3">−1</tspan><tspan dy="1.4">)</tspan></text>
</g>
<g>
<rect x="292" y="112.6" width="116.3" height="84.8" fill="#fff"/>
<path d="M292.2 112.6V197.4M308.61 112.6V197.4M325.02 112.6V197.4M341.44 112.6V197.4M357.85 112.6V197.4M374.26 112.6V197.4M390.67 112.6V197.4M407.08 112.6V197.4M292 126.2H408.3M292 140.44H408.3M292 154.68H408.3M292 168.92H408.3M292 183.16H408.3M292 197.4H408.3" stroke="#eeeeee" stroke-width="0.5" fill="none"/>
<g clip-path="url(#c7)">
<path d="M292 126.9 L294.55 128.6 L296.89 133.5 L298.59 137.76 L300.3 133.5 L302 136.91 L303.7 133.5 L305.19 137.76 L306.89 133.5 L308.59 135.2 L311.15 134.35 L313.49 131.16 L316.89 127.75 L320.29 125.2 L322.63 123.71 L325.19 117.75 L327.74 120.3 L329.23 125.2 L331.78 128.6 L335.18 132.01 L338.37 135.2 L341.78 139.46 L345.18 141.16 L348.37 141.8 L352.63 141.8 L355.82 142.87 L357.95 143.93 L360.07 149.25 L362.2 160.96 L364.33 165.22 L366.45 163.09 L368.58 160.96 L370.71 159.9 L372.84 157.77 L374.96 152.45 L376.03 151.38 L377.09 156.7 L379.22 163.09 L381.35 164.15 L385.6 165.22 L387.73 169.48 L389.85 165.22 L391.98 164.15 L396.24 163.09 L400.49 163.09 L404.75 167.77 L406.87 173.73 L409 183.31 L409 201.41 L343.05 201.41 L338.8 192.89 L334.55 185.44 L328.16 182.25 L322.85 180.12 L317.53 182.25 L313.27 183.31 L309.02 184.38 L304.76 184.38 L300.51 182.25 L296.25 175.86 L292 173.73 Z" fill="#cdcdcd"/>
<path d="M292 179.69 L295.4 177.14 L322.63 153.51 L337.74 166.28 L351.14 174.16 L362.2 182.25 L378.15 192.89 L399.43 196.08 L399.43 198 L378.15 198 L362.2 197.57 L351.14 196.72 L336.89 193.32 L322.63 185.87 L308.59 187.57 L292 190.12 Z" fill="#ff0000" fill-opacity="0.4"/>
<path d="M292 148.19 L294.13 150.32 L296.25 152.45 L297.32 157.77 L298.38 159.9 L299.45 156.7 L300.51 160.96 L301.57 157.77 L302.64 159.9 L303.7 156.7 L304.76 159.9 L305.83 162.02 L306.89 158.83 L309.02 160.96 L311.15 163.09 L313.27 160.96 L315.4 158.83 L317.53 156.7 L319.65 154.57 L321.78 153.51 L323.91 149.25 L324.97 147.12 L326.04 149.25 L327.1 152.45 L328.16 154.57 L330.29 159.9 L332.42 162.02 L334.55 163.09 L336.67 163.51 L338.8 164.15 L340.93 166.28 L343.05 169.48 L345.18 169.9 L347.31 169.9 L350.5 169.48 L353.69 168.41 L355.82 169.05 L357.95 171.6 L360.07 175.86 L362.2 184.38 L364.33 183.31 L366.45 181.18 L368.58 180.12 L370.71 180.54 L372.84 179.05 L374.96 173.73 L376.03 174.8 L377.09 176.93 L379.22 179.05 L381.35 179.69 L383.47 180.12 L385.6 183.31 L387.73 184.38 L389.85 182.25 L391.98 181.82 L394.11 181.18 L398.36 181.18 L402.62 181.82 L404.75 183.31 L406.87 186.5 L409 189.7" stroke="#000" stroke-width="0.55" fill="none" stroke-linejoin="round"/>
<g fill="#000"><circle cx="292" cy="148.19" r="0.85"/><circle cx="294.56" cy="150.75" r="0.85"/><circle cx="297.11" cy="156.74" r="0.85"/><circle cx="299.67" cy="157.59" r="0.85"/><circle cx="302.22" cy="159.07" r="0.85"/><circle cx="304.78" cy="159.93" r="0.85"/><circle cx="307.34" cy="159.28" r="0.85"/><circle cx="309.89" cy="161.84" r="0.85"/><circle cx="312.45" cy="161.79" r="0.85"/><circle cx="315" cy="159.23" r="0.85"/><circle cx="317.56" cy="156.67" r="0.85"/><circle cx="320.12" cy="154.34" r="0.85"/><circle cx="322.67" cy="151.73" r="0.85"/><circle cx="325.23" cy="147.64" r="0.85"/><circle cx="327.78" cy="153.82" r="0.85"/><circle cx="330.34" cy="159.95" r="0.85"/><circle cx="332.9" cy="162.26" r="0.85"/><circle cx="335.45" cy="163.27" r="0.85"/><circle cx="338.01" cy="163.92" r="0.85"/><circle cx="340.56" cy="165.92" r="0.85"/><circle cx="343.12" cy="169.49" r="0.85"/><circle cx="345.68" cy="169.9" r="0.85"/><circle cx="348.23" cy="169.78" r="0.85"/><circle cx="350.79" cy="169.38" r="0.85"/><circle cx="353.35" cy="168.53" r="0.85"/><circle cx="355.9" cy="169.15" r="0.85"/><circle cx="358.46" cy="172.63" r="0.85"/><circle cx="361.01" cy="179.63" r="0.85"/><circle cx="363.57" cy="183.69" r="0.85"/><circle cx="366.13" cy="181.51" r="0.85"/><circle cx="368.68" cy="180.14" r="0.85"/><circle cx="371.24" cy="180.17" r="0.85"/><circle cx="373.79" cy="176.66" r="0.85"/><circle cx="376.35" cy="175.44" r="0.85"/><circle cx="378.91" cy="178.74" r="0.85"/><circle cx="381.46" cy="179.72" r="0.85"/><circle cx="384.02" cy="180.94" r="0.85"/><circle cx="386.57" cy="183.8" r="0.85"/><circle cx="389.13" cy="182.97" r="0.85"/><circle cx="391.69" cy="181.88" r="0.85"/><circle cx="394.24" cy="181.18" r="0.85"/><circle cx="396.8" cy="181.18" r="0.85"/><circle cx="399.35" cy="181.33" r="0.85"/><circle cx="401.91" cy="181.72" r="0.85"/><circle cx="404.47" cy="183.12" r="0.85"/><circle cx="407.02" cy="186.73" r="0.85"/></g>
<path d="M293.06 188.21 L304.76 182.25 L310.08 179.05 L322.85 169.48 L337.74 182.89 L349.44 186.93 L362.2 190.76 L378.15 195.45 L399.43 197.15" stroke="#f01818" stroke-width="0.75" fill="none" stroke-linejoin="round"/>
<g fill="#f01818"><circle cx="293.06" cy="188.21" r="0.85"/><circle cx="304.76" cy="182.25" r="0.85"/><circle cx="310.08" cy="179.05" r="0.85"/><circle cx="322.85" cy="169.48" r="0.85"/><circle cx="337.74" cy="182.89" r="0.85"/><circle cx="349.44" cy="186.93" r="0.85"/><circle cx="362.2" cy="190.76" r="0.85"/><circle cx="378.15" cy="195.45" r="0.85"/><circle cx="399.43" cy="197.15" r="0.85"/></g>
</g>
<rect x="292" y="112.6" width="116.3" height="84.8" fill="none" stroke="#d6d6d6" stroke-width="0.6"/>
<rect x="345.18" y="121.58" width="59.56" height="21" rx="1.2" fill="#efefef"/>
<text x="347.98" y="128.38" class="lg">N = 7</text>
<text x="347.98" y="134.18" class="lg">Chl-a = 10.23 ± 3.61 mg m<tspan dy="-1.6" font-size="3">−3</tspan></text>
<text x="347.98" y="139.18" class="lg">AOD = 0.08 ± 0.07</text>
<text x="350.15" y="112.05" class="tt">Kemigawa (K)</text>
<text x="291.4" y="127.6" class="yk">0.010</text>
<text x="291.4" y="141.84" class="yk">0.008</text>
<text x="291.4" y="156.08" class="yk">0.006</text>
<text x="291.4" y="170.32" class="yk">0.004</text>
<text x="291.4" y="184.56" class="yk">0.002</text>
<text x="291.4" y="198.8" class="yk">0.000</text>
<text x="292.2" y="201.6" class="xk">440</text>
<text x="308.61" y="201.6" class="xk">505</text>
<text x="325.02" y="201.6" class="xk">570</text>
<text x="341.44" y="201.6" class="xk">635</text>
<text x="357.85" y="201.6" class="xk">700</text>
<text x="374.26" y="201.6" class="xk">765</text>
<text x="390.67" y="201.6" class="xk">830</text>
<text x="407.08" y="201.6" class="xk">895</text>
<text x="350.15" y="205.7" class="xl">Wavelength (nm)</text>
<text transform="translate(279.8 155) rotate(-90)" class="yl">Rrs (sr<tspan dy="-1.4" font-size="3">−1</tspan><tspan dy="1.4">)</tspan></text>
</g>
<g>
<rect x="427" y="112.6" width="116.8" height="84.8" fill="#fff"/>
<path d="M427.2 112.6V197.4M443.68 112.6V197.4M460.16 112.6V197.4M476.65 112.6V197.4M493.13 112.6V197.4M509.61 112.6V197.4M526.09 112.6V197.4M542.58 112.6V197.4M427 120.7H543.8M427 133.48H543.8M427 146.27H543.8M427 159.05H543.8M427 171.83H543.8M427 184.62H543.8M427 197.4H543.8" stroke="#eeeeee" stroke-width="0.5" fill="none"/>
<g clip-path="url(#c8)">
<path d="M427 132.22 L429.08 131.16 L431.16 130.09 L433.24 129.03 L435.32 127.97 L437.4 126.9 L439.48 126.9 L441.56 125.84 L443.64 124.77 L445.72 123.71 L447.8 120.51 L449.89 118.39 L451.97 117.96 L454.05 117.32 L456.13 118.39 L458.21 120.51 L460.29 124.77 L462.37 131.16 L464.45 139.67 L466.53 149.25 L468.61 157.77 L470.69 160.96 L472.77 162.02 L474.85 162.02 L476.93 163.09 L479.01 165.22 L481.09 168.41 L483.17 170.54 L485.25 171.6 L487.33 172.67 L489.41 173.73 L491.49 175.86 L493.58 180.12 L495.66 184.38 L497.74 186.08 L501.9 186.5 L506.06 185.44 L508.14 181.18 L510.22 182.25 L512.3 185.44 L514.38 187.57 L518.54 188.63 L522.7 189.7 L526.86 189.7 L531.02 189.7 L535.18 189.7 L539.35 190.76 L541.43 191.19 L541.43 196.72 L531.02 196.51 L520.62 196.08 L514.38 195.02 L510.22 193.96 L506.06 193.96 L501.9 193.96 L497.74 191.83 L493.58 188.63 L489.41 186.5 L485.25 185.44 L481.09 184.38 L476.93 182.25 L472.77 180.12 L470.69 177.99 L468.61 175.86 L466.53 172.67 L464.45 163.09 L462.37 154.57 L460.29 143.93 L458.21 137.54 L456.13 134.35 L454.05 133.29 L451.97 135.42 L449.89 135.42 L447.8 137.54 L445.72 139.67 L443.64 141.8 L441.56 143.93 L439.48 146.06 L437.4 148.19 L435.32 150.32 L433.24 153.51 L431.16 155.64 L429.08 156.7 L427 154.57 Z" fill="#cdcdcd"/>
<path d="M428.04 164.15 L439.48 148.19 L444.68 143.93 L457.17 133.29 L471.73 173.73 L483.17 182.25 L495.66 187.57 L511.26 191.83 L532.06 195.87 L532.06 197.57 L511.26 196.08 L495.66 192.89 L483.17 188.63 L471.73 184.38 L457.17 149.25 L444.68 157.77 L439.48 164.15 L428.04 179.05 Z" fill="#ff0000" fill-opacity="0.4"/>
<path d="M427 143.93 L429.08 143.5 L430.12 143.93 L431.16 141.8 L432.2 142.87 L433.24 145 L434.28 141.8 L435.32 139.67 L436.36 142.87 L437.4 138.61 L438.44 141.8 L439.48 139.67 L440.52 138.61 L441.56 137.54 L442.6 139.67 L443.64 135.42 L444.68 137.54 L445.72 134.35 L446.76 135.42 L447.8 131.16 L448.84 130.09 L449.89 129.03 L450.93 127.97 L451.97 127.33 L453.01 127.97 L454.05 129.03 L455.09 131.16 L456.13 132.22 L457.17 131.16 L458.21 131.58 L460.29 133.29 L461.33 137.54 L462.37 143.93 L463.41 151.38 L464.45 158.83 L465.49 163.09 L466.53 167.35 L468.61 168.41 L470.69 169.48 L472.77 169.48 L474.85 170.54 L476.93 171.6 L479.01 173.73 L481.09 176.93 L483.17 177.99 L485.25 179.05 L487.33 180.12 L489.41 181.18 L491.49 183.31 L493.58 185.44 L495.66 189.7 L497.74 191.19 L499.82 191.83 L501.9 190.76 L503.98 191.83 L506.06 191.83 L508.14 189.7 L509.18 186.5 L510.22 189.7 L512.3 190.76 L514.38 192.47 L516.46 192.89 L518.54 193.96 L520.62 192.89 L522.7 192.47 L524.78 191.83 L526.86 191.83 L531.02 191.83 L535.18 191.83 L537.27 192.47 L540.39 193.96" stroke="#000" stroke-width="0.55" fill="none" stroke-linejoin="round"/>
<g fill="#000"><circle cx="427" cy="143.93" r="0.85"/><circle cx="429.57" cy="143.7" r="0.85"/><circle cx="432.13" cy="142.8" r="0.85"/><circle cx="434.7" cy="140.94" r="0.85"/><circle cx="437.27" cy="139.16" r="0.85"/><circle cx="439.84" cy="139.31" r="0.85"/><circle cx="442.4" cy="139.26" r="0.85"/><circle cx="444.97" cy="136.67" r="0.85"/><circle cx="447.54" cy="132.26" r="0.85"/><circle cx="450.1" cy="128.81" r="0.85"/><circle cx="452.67" cy="127.76" r="0.85"/><circle cx="455.24" cy="131.31" r="0.85"/><circle cx="457.8" cy="131.42" r="0.85"/><circle cx="460.37" cy="133.63" r="0.85"/><circle cx="462.94" cy="148.02" r="0.85"/><circle cx="465.51" cy="163.16" r="0.85"/><circle cx="468.07" cy="168.14" r="0.85"/><circle cx="470.64" cy="169.45" r="0.85"/><circle cx="473.21" cy="169.7" r="0.85"/><circle cx="475.77" cy="171.01" r="0.85"/><circle cx="478.34" cy="173.05" r="0.85"/><circle cx="480.91" cy="176.64" r="0.85"/><circle cx="483.47" cy="178.14" r="0.85"/><circle cx="486.04" cy="179.46" r="0.85"/><circle cx="488.61" cy="180.77" r="0.85"/><circle cx="491.18" cy="182.99" r="0.85"/><circle cx="493.74" cy="185.78" r="0.85"/><circle cx="496.31" cy="190.17" r="0.85"/><circle cx="498.88" cy="191.54" r="0.85"/><circle cx="501.44" cy="190.99" r="0.85"/><circle cx="504.01" cy="191.83" r="0.85"/><circle cx="506.58" cy="191.29" r="0.85"/><circle cx="509.15" cy="186.61" r="0.85"/><circle cx="511.71" cy="190.46" r="0.85"/><circle cx="514.28" cy="192.38" r="0.85"/><circle cx="516.85" cy="193.09" r="0.85"/><circle cx="519.41" cy="193.51" r="0.85"/><circle cx="521.98" cy="192.61" r="0.85"/><circle cx="524.55" cy="191.9" r="0.85"/><circle cx="527.11" cy="191.83" r="0.85"/><circle cx="529.68" cy="191.83" r="0.85"/><circle cx="532.25" cy="191.83" r="0.85"/><circle cx="534.82" cy="191.83" r="0.85"/><circle cx="537.38" cy="192.52" r="0.85"/><circle cx="539.95" cy="193.75" r="0.85"/></g>
<path d="M428.04 172.67 L439.48 156.7 L444.68 151.38 L457.17 141.8 L471.73 179.05 L483.17 185.44 L495.66 189.7 L511.26 193.96 L532.06 196.72" stroke="#f01818" stroke-width="0.75" fill="none" stroke-linejoin="round"/>
<g fill="#f01818"><circle cx="428.04" cy="172.67" r="0.85"/><circle cx="439.48" cy="156.7" r="0.85"/><circle cx="444.68" cy="151.38" r="0.85"/><circle cx="457.17" cy="141.8" r="0.85"/><circle cx="471.73" cy="179.05" r="0.85"/><circle cx="483.17" cy="185.44" r="0.85"/><circle cx="495.66" cy="189.7" r="0.85"/><circle cx="511.26" cy="193.96" r="0.85"/><circle cx="532.06" cy="196.72" r="0.85"/></g>
</g>
<rect x="427" y="112.6" width="116.8" height="84.8" fill="none" stroke="#d6d6d6" stroke-width="0.6"/>
<rect x="483.37" y="121.58" width="56.37" height="21" rx="1.2" fill="#efefef"/>
<text x="486.17" y="128.38" class="lg">N = 6</text>
<text x="486.17" y="134.18" class="lg">Chl-a = 8.50 ± 6.32 mg m<tspan dy="-1.6" font-size="3">−3</tspan></text>
<text x="486.17" y="139.18" class="lg">AOD = 0.09 ± 0.06</text>
<text x="485.4" y="112.05" class="tt">Lake Erie (LE)</text>
<text x="426.4" y="122.1" class="yk">0.012</text>
<text x="426.4" y="134.88" class="yk">0.010</text>
<text x="426.4" y="147.67" class="yk">0.008</text>
<text x="426.4" y="160.45" class="yk">0.006</text>
<text x="426.4" y="173.23" class="yk">0.004</text>
<text x="426.4" y="186.02" class="yk">0.002</text>
<text x="426.4" y="198.8" class="yk">0.000</text>
<text x="427.2" y="201.6" class="xk">440</text>
<text x="443.68" y="201.6" class="xk">505</text>
<text x="460.16" y="201.6" class="xk">570</text>
<text x="476.65" y="201.6" class="xk">635</text>
<text x="493.13" y="201.6" class="xk">700</text>
<text x="509.61" y="201.6" class="xk">765</text>
<text x="526.09" y="201.6" class="xk">830</text>
<text x="542.58" y="201.6" class="xk">895</text>
<text x="485.4" y="205.7" class="xl">Wavelength (nm)</text>
<text transform="translate(414.8 155) rotate(-90)" class="yl">Rrs (sr<tspan dy="-1.4" font-size="3">−1</tspan><tspan dy="1.4">)</tspan></text>
</g>
<g>
<rect x="21.5" y="214.9" width="116.3" height="84.8" fill="#fff"/>
<path d="M21.7 214.9V299.7M38.11 214.9V299.7M54.52 214.9V299.7M70.94 214.9V299.7M87.35 214.9V299.7M103.76 214.9V299.7M120.17 214.9V299.7M136.58 214.9V299.7M21.5 224.6H137.8M21.5 235.33H137.8M21.5 246.06H137.8M21.5 256.79H137.8M21.5 267.51H137.8M21.5 278.24H137.8M21.5 288.97H137.8M21.5 299.7H137.8" stroke="#eeeeee" stroke-width="0.5" fill="none"/>
<g clip-path="url(#c9)">
<path d="M21 241.45 L23.57 242.95 L26.36 245.74 L29.15 244.02 L31.73 243.17 L33.44 245.1 L34.95 244.67 L36.45 241.45 L38.16 239.95 L42.45 237.81 L45.67 235.45 L48.03 234.59 L51.04 232.87 L53.4 231.16 L55.54 229.01 L58.55 228.15 L60.91 227.51 L63.91 227.3 L66.27 226.87 L69.49 224.29 L72.71 224.72 L74.64 223.65 L85.36 223.65 L96.09 226.87 L106.82 231.16 L117.55 235.45 L128.27 238.66 L133.21 239.95 L136.85 246.17 L139 250.46 L139 304.07 L108.53 304.07 L108.53 296.57 L95.02 296.78 L95.02 304.07 L91.59 304.07 L89.65 292.28 L85.36 290.13 L80 289.71 L77.85 288.42 L74.64 285.85 L63.91 284.77 L53.18 284.77 L42.45 285.85 L31.73 286.49 L24.22 285.85 L21 284.56 Z" fill="#cdcdcd"/>
<path d="M22.07 287.99 L33.87 282.63 L39.24 279.41 L52.11 276.19 L67.13 275.12 L78.93 272.98 L89.65 269.76 L129.35 287.99 L129.35 293.78 L89.65 280.48 L78.93 284.77 L67.13 286.92 L52.11 287.99 L39.24 291.21 L33.87 294.42 L22.07 297.64 Z" fill="#ff0000" fill-opacity="0.4"/>
<path d="M21 262.04 L24.22 263.54 L27.01 268.47 L30.65 265.69 L32.8 268.9 L34.95 265.26 L38.16 264.18 L40.31 267.4 L43.74 263.54 L48.03 261.4 L51.25 260.32 L55.54 257.75 L58.76 258.82 L61.98 257.11 L66.27 257.11 L69.49 255.61 L71.63 255.61 L74.85 257.75 L80 257.32 L86.87 253.89 L89.23 259.04 L91.59 269.55 L97.38 264.18 L101.88 268.26 L104.89 257.32 L107.68 264.18 L110.68 263.11 L113.04 264.83 L115.83 271.26 L120.33 270.62 L123.98 269.55 L128.49 270.62 L131.92 272.33 L135.57 277.05 L137.71 282.63" stroke="#000" stroke-width="0.55" fill="none" stroke-linejoin="round"/>
<g fill="#000"><circle cx="21.5" cy="262.27" r="0.85"/><circle cx="24.06" cy="263.47" r="0.85"/><circle cx="26.61" cy="267.77" r="0.85"/><circle cx="29.17" cy="266.82" r="0.85"/><circle cx="31.72" cy="267.29" r="0.85"/><circle cx="34.28" cy="266.39" r="0.85"/><circle cx="36.84" cy="264.63" r="0.85"/><circle cx="39.39" cy="266.03" r="0.85"/><circle cx="41.95" cy="265.56" r="0.85"/><circle cx="44.5" cy="263.16" r="0.85"/><circle cx="47.06" cy="261.88" r="0.85"/><circle cx="49.62" cy="260.87" r="0.85"/><circle cx="52.17" cy="259.77" r="0.85"/><circle cx="54.73" cy="258.24" r="0.85"/><circle cx="57.28" cy="258.33" r="0.85"/><circle cx="59.84" cy="258.25" r="0.85"/><circle cx="62.4" cy="257.11" r="0.85"/><circle cx="64.95" cy="257.11" r="0.85"/><circle cx="67.51" cy="256.53" r="0.85"/><circle cx="70.06" cy="255.61" r="0.85"/><circle cx="72.62" cy="256.26" r="0.85"/><circle cx="75.18" cy="257.72" r="0.85"/><circle cx="77.73" cy="257.51" r="0.85"/><circle cx="80.29" cy="257.18" r="0.85"/><circle cx="82.85" cy="255.9" r="0.85"/><circle cx="85.4" cy="254.62" r="0.85"/><circle cx="87.96" cy="256.27" r="0.85"/><circle cx="90.51" cy="264.77" r="0.85"/><circle cx="93.07" cy="268.17" r="0.85"/><circle cx="95.63" cy="265.81" r="0.85"/><circle cx="98.18" cy="264.91" r="0.85"/><circle cx="100.74" cy="267.22" r="0.85"/><circle cx="103.29" cy="263.13" r="0.85"/><circle cx="105.85" cy="259.69" r="0.85"/><circle cx="108.41" cy="263.92" r="0.85"/><circle cx="110.96" cy="263.32" r="0.85"/><circle cx="113.52" cy="265.93" r="0.85"/><circle cx="116.07" cy="271.23" r="0.85"/><circle cx="118.63" cy="270.86" r="0.85"/><circle cx="121.19" cy="270.37" r="0.85"/><circle cx="123.74" cy="269.62" r="0.85"/><circle cx="126.3" cy="270.1" r="0.85"/><circle cx="128.85" cy="270.8" r="0.85"/><circle cx="131.41" cy="272.08" r="0.85"/><circle cx="133.97" cy="274.98" r="0.85"/><circle cx="136.52" cy="279.53" r="0.85"/></g>
<path d="M22.07 292.92 L33.87 289.06 L39.24 285.85 L52.11 282.2 L67.13 280.48 L78.93 278.34 L83.22 277.7 L89.65 275.77 L129.35 290.78" stroke="#f01818" stroke-width="0.75" fill="none" stroke-linejoin="round"/>
<g fill="#f01818"><circle cx="22.07" cy="292.92" r="0.85"/><circle cx="33.87" cy="289.06" r="0.85"/><circle cx="39.24" cy="285.85" r="0.85"/><circle cx="52.11" cy="282.2" r="0.85"/><circle cx="67.13" cy="280.48" r="0.85"/><circle cx="78.93" cy="278.34" r="0.85"/><circle cx="83.22" cy="277.7" r="0.85"/><circle cx="89.65" cy="275.77" r="0.85"/><circle cx="129.35" cy="290.78" r="0.85"/></g>
</g>
<rect x="21.5" y="214.9" width="116.3" height="84.8" fill="none" stroke="#d6d6d6" stroke-width="0.6"/>
<rect x="73.56" y="221.51" width="61.15" height="21" rx="1.2" fill="#efefef"/>
<text x="76.36" y="228.31" class="lg">N = 5</text>
<text x="76.36" y="234.11" class="lg">Chl-a = 11.38 ± 7.68 mg m<tspan dy="-1.6" font-size="3">−3</tspan></text>
<text x="76.36" y="239.11" class="lg">AOD = 0.11 ± 0.05</text>
<text x="79.65" y="214.35" class="tt">Lake Okeechobee (LO)</text>
<text x="20.9" y="226" class="yk">0.018</text>
<text x="20.9" y="236.73" class="yk">0.015</text>
<text x="20.9" y="247.46" class="yk">0.013</text>
<text x="20.9" y="258.19" class="yk">0.010</text>
<text x="20.9" y="268.91" class="yk">0.007</text>
<text x="20.9" y="279.64" class="yk">0.005</text>
<text x="20.9" y="290.37" class="yk">0.003</text>
<text x="20.9" y="301.1" class="yk">0.000</text>
<text x="21.7" y="303.9" class="xk">440</text>
<text x="38.11" y="303.9" class="xk">505</text>
<text x="54.52" y="303.9" class="xk">570</text>
<text x="70.94" y="303.9" class="xk">635</text>
<text x="87.35" y="303.9" class="xk">700</text>
<text x="103.76" y="303.9" class="xk">765</text>
<text x="120.17" y="303.9" class="xk">830</text>
<text x="136.58" y="303.9" class="xk">895</text>
<text x="79.65" y="308" class="xl">Wavelength (nm)</text>
<text transform="translate(9.3 257.3) rotate(-90)" class="yl">Rrs (sr<tspan dy="-1.4" font-size="3">−1</tspan><tspan dy="1.4">)</tspan></text>
</g>
<g>
<rect x="156.4" y="214.9" width="116.3" height="84.8" fill="#fff"/>
<path d="M156.6 214.9V299.7M173.01 214.9V299.7M189.42 214.9V299.7M205.84 214.9V299.7M222.25 214.9V299.7M238.66 214.9V299.7M255.07 214.9V299.7M271.48 214.9V299.7M156.4 223.6H272.7M156.4 236.28H272.7M156.4 248.97H272.7M156.4 261.65H272.7M156.4 274.33H272.7M156.4 287.02H272.7M156.4 299.7H272.7" stroke="#eeeeee" stroke-width="0.5" fill="none"/>
<g clip-path="url(#c10)">
<path d="M156 234.65 L159.4 236.35 L161.74 239.76 L163.45 235.5 L165.15 236.35 L166.85 234.01 L168.34 238.05 L170.04 233.16 L172.59 230.6 L174.29 232.31 L176 235.5 L178.34 229.75 L180.89 227.2 L184.29 224.86 L187.48 223.15 L190.04 220.6 L192.59 224 L195.78 230.6 L199.18 234.65 L202.37 235.5 L205.78 234.65 L209.18 237.2 L212.37 239.76 L215.14 241.46 L219.82 241.67 L224.07 243.8 L228.33 244.87 L230.45 243.8 L232.58 245.93 L234.71 248.06 L236.84 250.19 L238.96 244.87 L241.09 241.67 L243.22 243.8 L245.35 242.74 L249.6 243.8 L253.85 243.8 L258.11 244.87 L262.36 245.93 L266.62 247 L270.87 248.06 L273 249.12 L273 303.41 L196.42 303.41 L194.29 297.02 L190.04 292.76 L183.65 292.76 L177.27 293.83 L173.02 295.96 L166.64 293.83 L162.38 294.89 L160.25 303.41 L156 303.41 Z" fill="#cdcdcd"/>
<path d="M156 287.01 L169.19 277.01 L180.04 271.26 L185.14 265.51 L215.14 283.82 L264.49 297.87 L264.49 300 L215.14 292.12 L185.14 280.42 L180.89 282.12 L169.19 287.01 L156 293.61 Z" fill="#ff0000" fill-opacity="0.4"/>
<path d="M156 261.26 L158.55 263.81 L160.89 270.41 L163.45 270.41 L165.15 265.51 L166.85 268.71 L168.34 263.81 L170.89 263.81 L172.59 262.11 L174.29 263.81 L176 268.07 L178.34 263.81 L180.89 262.11 L183.44 259.77 L185.78 258.92 L188.33 258.92 L190.04 256.36 L191.74 258.06 L193.23 261.26 L195.78 267.22 L198.33 270.41 L200.89 272.11 L204.08 271.26 L207.48 272.97 L210.67 276.16 L215.14 277.01 L221.52 276.8 L223.22 279.56 L227.26 284.67 L230.67 282.97 L235.56 284.67 L237.9 285.31 L240.45 277.86 L243.01 282.12 L247.26 282.12 L252.15 283.82 L258.75 282.97 L265.34 283.82 L273 285.31" stroke="#000" stroke-width="0.55" fill="none" stroke-linejoin="round"/>
<g fill="#000"><circle cx="156.4" cy="261.66" r="0.85"/><circle cx="158.96" cy="264.95" r="0.85"/><circle cx="161.51" cy="270.41" r="0.85"/><circle cx="164.07" cy="268.62" r="0.85"/><circle cx="166.62" cy="268.29" r="0.85"/><circle cx="169.18" cy="263.81" r="0.85"/><circle cx="171.74" cy="262.97" r="0.85"/><circle cx="174.29" cy="263.81" r="0.85"/><circle cx="176.85" cy="266.52" r="0.85"/><circle cx="179.4" cy="263.1" r="0.85"/><circle cx="181.96" cy="261.13" r="0.85"/><circle cx="184.52" cy="259.38" r="0.85"/><circle cx="187.07" cy="258.92" r="0.85"/><circle cx="189.63" cy="256.97" r="0.85"/><circle cx="192.18" cy="259.02" r="0.85"/><circle cx="194.74" cy="264.79" r="0.85"/><circle cx="197.3" cy="269.11" r="0.85"/><circle cx="199.85" cy="271.42" r="0.85"/><circle cx="202.41" cy="271.71" r="0.85"/><circle cx="204.96" cy="271.71" r="0.85"/><circle cx="207.52" cy="273.01" r="0.85"/><circle cx="210.08" cy="275.56" r="0.85"/><circle cx="212.63" cy="276.53" r="0.85"/><circle cx="215.19" cy="277.01" r="0.85"/><circle cx="217.75" cy="276.92" r="0.85"/><circle cx="220.3" cy="276.84" r="0.85"/><circle cx="222.86" cy="278.97" r="0.85"/><circle cx="225.41" cy="282.33" r="0.85"/><circle cx="227.97" cy="284.32" r="0.85"/><circle cx="230.53" cy="283.04" r="0.85"/><circle cx="233.08" cy="283.81" r="0.85"/><circle cx="235.64" cy="284.69" r="0.85"/><circle cx="238.19" cy="284.46" r="0.85"/><circle cx="240.75" cy="278.36" r="0.85"/><circle cx="243.31" cy="282.12" r="0.85"/><circle cx="245.86" cy="282.12" r="0.85"/><circle cx="248.42" cy="282.52" r="0.85"/><circle cx="250.97" cy="283.41" r="0.85"/><circle cx="253.53" cy="283.64" r="0.85"/><circle cx="256.09" cy="283.31" r="0.85"/><circle cx="258.64" cy="282.98" r="0.85"/><circle cx="261.2" cy="283.29" r="0.85"/><circle cx="263.75" cy="283.62" r="0.85"/><circle cx="266.31" cy="284.01" r="0.85"/><circle cx="268.87" cy="284.51" r="0.85"/><circle cx="271.42" cy="285" r="0.85"/></g>
<path d="M156.85 291.27 L169.19 282.12 L180.04 277.86 L185.14 272.97 L215.14 289.57 L264.49 299.15" stroke="#f01818" stroke-width="0.75" fill="none" stroke-linejoin="round"/>
<g fill="#f01818"><circle cx="156.85" cy="291.27" r="0.85"/><circle cx="169.19" cy="282.12" r="0.85"/><circle cx="180.04" cy="277.86" r="0.85"/><circle cx="185.14" cy="272.97" r="0.85"/><circle cx="215.14" cy="289.57" r="0.85"/><circle cx="264.49" cy="299.15" r="0.85"/></g>
</g>
<rect x="156.4" y="214.9" width="116.3" height="84.8" fill="none" stroke="#d6d6d6" stroke-width="0.6"/>
<rect x="213.44" y="221.45" width="55.31" height="21" rx="1.2" fill="#efefef"/>
<text x="216.24" y="228.25" class="lg">N = 7</text>
<text x="216.24" y="234.05" class="lg">Chl-a = 4.37 ± 0.99 mg m<tspan dy="-1.6" font-size="3">−3</tspan></text>
<text x="216.24" y="239.05" class="lg">AOD = 0.07 ± 0.05</text>
<text x="214.55" y="214.35" class="tt">LISCO (LI)</text>
<text x="155.8" y="225" class="yk">0.012</text>
<text x="155.8" y="237.68" class="yk">0.010</text>
<text x="155.8" y="250.37" class="yk">0.008</text>
<text x="155.8" y="263.05" class="yk">0.006</text>
<text x="155.8" y="275.73" class="yk">0.004</text>
<text x="155.8" y="288.42" class="yk">0.002</text>
<text x="155.8" y="301.1" class="yk">0.000</text>
<text x="156.6" y="303.9" class="xk">440</text>
<text x="173.01" y="303.9" class="xk">505</text>
<text x="189.42" y="303.9" class="xk">570</text>
<text x="205.84" y="303.9" class="xk">635</text>
<text x="222.25" y="303.9" class="xk">700</text>
<text x="238.66" y="303.9" class="xk">765</text>
<text x="255.07" y="303.9" class="xk">830</text>
<text x="271.48" y="303.9" class="xk">895</text>
<text x="214.55" y="308" class="xl">Wavelength (nm)</text>
<text transform="translate(144.2 257.3) rotate(-90)" class="yl">Rrs (sr<tspan dy="-1.4" font-size="3">−1</tspan><tspan dy="1.4">)</tspan></text>
</g>
<g>
<rect x="292" y="214.9" width="116.3" height="84.8" fill="#fff"/>
<path d="M292.2 214.9V299.7M308.61 214.9V299.7M325.02 214.9V299.7M341.44 214.9V299.7M357.85 214.9V299.7M374.26 214.9V299.7M390.67 214.9V299.7M407.08 214.9V299.7M292 217.8H408.3M292 228.04H408.3M292 238.28H408.3M292 248.51H408.3M292 258.75H408.3M292 268.99H408.3M292 279.23H408.3M292 289.46H408.3M292 299.7H408.3" stroke="#eeeeee" stroke-width="0.5" fill="none"/>
<g clip-path="url(#c11)">
<path d="M292 233.16 L294.13 234.22 L296.25 233.16 L298.38 232.09 L300.51 231.03 L302.64 229.97 L304.76 225.71 L306.89 224.64 L309.02 222.51 L311.15 223.58 L313.27 223.58 L315.4 220.39 L317.53 219.32 L319.65 219.96 L321.78 220.39 L323.91 221.45 L326.04 226.77 L327.1 231.03 L328.16 237.42 L329.23 245.93 L330.29 254.45 L332.42 260.83 L334.55 265.09 L336.67 267.22 L338.8 269.35 L340.93 271.48 L343.05 274.67 L345.18 277.86 L347.31 279.99 L349.44 282.12 L351.56 284.25 L353.69 286.38 L355.82 289.57 L357.95 291.7 L360.07 293.83 L362.2 295.96 L364.33 297.02 L368.58 297.66 L372.84 297.02 L377.09 297.45 L381.35 297.45 L385.6 297.87 L389.85 297.45 L394.11 297.02 L398.36 297.02 L402.62 297.45 L406.87 298.08 L409 298.72 L409 303.41 L362.2 303.41 L360.07 297.45 L355.82 294.89 L351.56 292.34 L343.05 285.31 L334.55 277.86 L332.42 272.54 L330.29 267.22 L328.16 250.19 L326.04 241.67 L321.78 236.35 L317.53 234.86 L313.27 234.22 L309.02 235.29 L304.76 236.35 L300.51 237.84 L296.25 239.97 L292 241.25 Z" fill="#cdcdcd"/>
<path d="M292 244.44 L314.76 219.53 L340.93 264.02 L351.99 279.99 L399.43 297.45 L399.43 300 L351.99 293.61 L327.95 282.76 L316.04 275.09 L292 284.89 Z" fill="#ff0000" fill-opacity="0.4"/>
<path d="M292 239.54 L294.13 239.12 L296.25 238.48 L298.38 237.42 L300.51 235.29 L301.57 234.22 L302.64 235.29 L303.7 232.09 L304.76 233.16 L305.83 231.03 L306.89 234.22 L307.95 232.09 L309.02 233.16 L310.08 235.29 L311.15 236.35 L312.21 233.16 L313.27 231.03 L315.4 230.6 L317.53 231.03 L319.65 231.03 L321.78 232.09 L323.91 234.22 L324.97 235.29 L326.04 241.67 L327.1 248.06 L328.16 256.57 L329.23 262.96 L330.29 268.28 L331.35 271.48 L332.42 273.6 L334.55 274.67 L336.67 274.67 L338.8 275.73 L340.93 277.86 L343.05 279.99 L345.18 281.69 L347.31 282.12 L349.44 284.25 L351.56 286.38 L353.69 287.44 L355.82 290.63 L357.95 293.19 L360.07 295.96 L362.2 299.15 L364.33 298.72 L366.45 297.02 L368.58 295.96 L370.71 297.02 L372.84 295.96 L374.96 294.89 L377.09 295.96 L379.22 296.59 L381.35 295.96 L383.47 297.02 L385.6 298.08 L387.73 299.15 L391.98 298.72 L396.24 298.08 L400.49 297.66 L404.75 298.08 L409 298.72" stroke="#000" stroke-width="0.55" fill="none" stroke-linejoin="round"/>
<g fill="#000"><circle cx="292" cy="239.54" r="0.85"/><circle cx="294.56" cy="238.99" r="0.85"/><circle cx="297.11" cy="238.05" r="0.85"/><circle cx="299.67" cy="236.13" r="0.85"/><circle cx="302.22" cy="234.87" r="0.85"/><circle cx="304.78" cy="233.13" r="0.85"/><circle cx="307.34" cy="233.33" r="0.85"/><circle cx="309.89" cy="234.91" r="0.85"/><circle cx="312.45" cy="232.68" r="0.85"/><circle cx="315" cy="230.68" r="0.85"/><circle cx="317.56" cy="231.03" r="0.85"/><circle cx="320.12" cy="231.26" r="0.85"/><circle cx="322.67" cy="232.99" r="0.85"/><circle cx="325.23" cy="236.82" r="0.85"/><circle cx="327.78" cy="253.54" r="0.85"/><circle cx="330.34" cy="268.43" r="0.85"/><circle cx="332.9" cy="273.84" r="0.85"/><circle cx="335.45" cy="274.67" r="0.85"/><circle cx="338.01" cy="275.34" r="0.85"/><circle cx="340.56" cy="277.5" r="0.85"/><circle cx="343.12" cy="280.04" r="0.85"/><circle cx="345.68" cy="281.79" r="0.85"/><circle cx="348.23" cy="283.04" r="0.85"/><circle cx="350.79" cy="285.6" r="0.85"/><circle cx="353.35" cy="287.27" r="0.85"/><circle cx="355.9" cy="290.73" r="0.85"/><circle cx="358.46" cy="293.85" r="0.85"/><circle cx="361.01" cy="297.37" r="0.85"/><circle cx="363.57" cy="298.87" r="0.85"/><circle cx="366.13" cy="297.28" r="0.85"/><circle cx="368.68" cy="296.01" r="0.85"/><circle cx="371.24" cy="296.76" r="0.85"/><circle cx="373.79" cy="295.48" r="0.85"/><circle cx="376.35" cy="295.58" r="0.85"/><circle cx="378.91" cy="296.5" r="0.85"/><circle cx="381.46" cy="296.01" r="0.85"/><circle cx="384.02" cy="297.29" r="0.85"/><circle cx="386.57" cy="298.57" r="0.85"/><circle cx="389.13" cy="299.01" r="0.85"/><circle cx="391.69" cy="298.75" r="0.85"/><circle cx="394.24" cy="298.38" r="0.85"/><circle cx="396.8" cy="298.03" r="0.85"/><circle cx="399.35" cy="297.77" r="0.85"/><circle cx="401.91" cy="297.8" r="0.85"/><circle cx="404.47" cy="298.06" r="0.85"/><circle cx="407.02" cy="298.43" r="0.85"/></g>
<path d="M293.06 264.66 L304.76 254.45 L314.97 247.21 L320.29 248.49 L349.86 285.95 L399.43 298.08" stroke="#f01818" stroke-width="0.75" fill="none" stroke-linejoin="round"/>
<g fill="#f01818"><circle cx="293.06" cy="264.66" r="0.85"/><circle cx="304.76" cy="254.45" r="0.85"/><circle cx="314.97" cy="247.21" r="0.85"/><circle cx="320.29" cy="248.49" r="0.85"/><circle cx="349.86" cy="285.95" r="0.85"/><circle cx="399.43" cy="298.08" r="0.85"/></g>
</g>
<rect x="292" y="214.9" width="116.3" height="84.8" fill="none" stroke="#d6d6d6" stroke-width="0.6"/>
<rect x="344.12" y="220.39" width="58.5" height="21" rx="1.2" fill="#efefef"/>
<text x="346.92" y="227.19" class="lg">N = 3</text>
<text x="346.92" y="232.99" class="lg">Chl-a = 2.61 ± 0.38 mg m<tspan dy="-1.6" font-size="3">−3</tspan></text>
<text x="346.92" y="237.99" class="lg">AOD = 0.08 ± 0.04</text>
<text x="350.15" y="214.35" class="tt">Lucinda (LU)</text>
<text x="291.4" y="219.2" class="yk">0.020</text>
<text x="291.4" y="229.44" class="yk">0.018</text>
<text x="291.4" y="239.68" class="yk">0.015</text>
<text x="291.4" y="249.91" class="yk">0.013</text>
<text x="291.4" y="260.15" class="yk">0.010</text>
<text x="291.4" y="270.39" class="yk">0.007</text>
<text x="291.4" y="280.62" class="yk">0.005</text>
<text x="291.4" y="290.86" class="yk">0.003</text>
<text x="291.4" y="301.1" class="yk">0.000</text>
<text x="292.2" y="303.9" class="xk">440</text>
<text x="308.61" y="303.9" class="xk">505</text>
<text x="325.02" y="303.9" class="xk">570</text>
<text x="341.44" y="303.9" class="xk">635</text>
<text x="357.85" y="303.9" class="xk">700</text>
<text x="374.26" y="303.9" class="xk">765</text>
<text x="390.67" y="303.9" class="xk">830</text>
<text x="407.08" y="303.9" class="xk">895</text>
<text x="350.15" y="308" class="xl">Wavelength (nm)</text>
<text transform="translate(279.8 257.3) rotate(-90)" class="yl">Rrs (sr<tspan dy="-1.4" font-size="3">−1</tspan><tspan dy="1.4">)</tspan></text>
</g>
<g>
<rect x="427" y="214.9" width="116.8" height="84.8" fill="#fff"/>
<path d="M427.2 214.9V299.7M443.68 214.9V299.7M460.16 214.9V299.7M476.65 214.9V299.7M493.13 214.9V299.7M509.61 214.9V299.7M526.09 214.9V299.7M542.58 214.9V299.7M427 223.3H543.8M427 238.58H543.8M427 253.86H543.8M427 269.14H543.8M427 284.42H543.8M427 299.7H543.8" stroke="#eeeeee" stroke-width="0.5" fill="none"/>
<g clip-path="url(#c12)">
<path d="M427 240.61 L428.7 245.5 L431.04 257.21 L432.74 263.81 L434.45 252.1 L436.15 247.21 L437.85 252.1 L440.19 258.92 L442.74 253.81 L444.44 250.61 L447 243.8 L451.89 235.5 L455.93 227.2 L459.33 220.6 L461.04 221.45 L462.74 225.71 L465.08 234.01 L468.48 243.8 L471.89 248.06 L475.08 248.91 L478.48 251.25 L481.67 258.92 L485.07 262.11 L488.27 258.92 L491.67 257.21 L494.86 268.71 L498.26 275.52 L501.67 277.01 L504.86 275.52 L508.26 273.82 L510.6 263.81 L513.15 273.82 L516.56 277.01 L519.11 273.82 L521.45 280.42 L524.85 280.42 L528.05 277.01 L531.45 275.52 L534.85 273.82 L539.75 275.52 L544 277.01 L544 303.41 L496.77 303.41 L495.07 290.63 L492.95 278.93 L490.82 277.86 L488.69 277.86 L486.56 277.86 L484.44 276.8 L482.31 275.73 L480.18 273.6 L478.05 269.35 L475.93 268.28 L473.8 267.22 L471.67 266.15 L469.55 265.09 L467.42 260.83 L465.29 252.32 L463.16 244.87 L461.04 237.42 L458.91 235.29 L456.78 239.54 L454.65 243.8 L452.53 250.19 L450.4 256.57 L448.49 263.81 L446.15 273.82 L443.59 272.11 L441.89 277.86 L439.34 280.42 L437 287.01 L435.3 283.82 L433.59 292.12 L431.25 286.38 L429.13 282.12 L427 278.71 Z" fill="#cdcdcd"/>
<path d="M428.06 275.73 L439.76 252.32 L445.08 241.67 L456.78 220.39 L472.74 250.19 L484.44 265.09 L497.2 278.93 L513.15 293.19 L534.43 297.02 L534.43 299.57 L513.15 296.59 L497.2 285.31 L484.44 276.8 L472.74 271.48 L457.85 253.38 L445.08 266.15 L439.76 272.54 L428.06 287.44 Z" fill="#ff0000" fill-opacity="0.4"/>
<path d="M427 257.64 L428.06 258.7 L429.13 262.96 L430.19 267.22 L431.25 272.54 L432.32 275.73 L433.38 277.86 L434.45 275.73 L435.51 269.35 L436.57 262.96 L437.64 267.22 L438.7 266.15 L439.76 265.09 L440.83 267.22 L441.89 265.09 L442.95 260.83 L444.02 254.45 L445.08 259.77 L446.15 265.09 L447.21 260.83 L448.27 254.45 L449.34 249.12 L450.4 243.8 L451.46 242.74 L452.53 240.61 L453.59 240.61 L454.65 238.48 L455.72 239.54 L456.78 237.42 L457.85 234.22 L458.91 232.09 L459.97 229.33 L461.04 228.9 L462.1 231.03 L463.16 234.22 L464.23 238.48 L465.29 243.8 L466.35 248.06 L467.42 252.32 L468.48 255.51 L469.55 257.64 L471.67 257.64 L473.8 256.57 L475.93 256.57 L478.05 258.7 L480.18 261.9 L482.31 266.15 L484.44 269.35 L486.56 271.48 L488.69 272.54 L490.82 271.48 L492.95 273.6 L495.07 282.12 L497.2 289.57 L499.33 290.63 L501.45 288.5 L503.58 287.44 L505.71 287.44 L507.84 288.5 L509.96 282.12 L511.03 276.8 L512.09 279.99 L514.22 283.18 L516.35 284.25 L518.47 286.38 L520.6 287.44 L522.73 289.57 L524.85 288.5 L526.98 287.44 L529.11 287.44 L533.36 286.8 L536.55 286.38 L539.75 287.44 L542.94 290.63" stroke="#000" stroke-width="0.55" fill="none" stroke-linejoin="round"/>
<g fill="#000"><circle cx="427" cy="257.64" r="0.85"/><circle cx="429.57" cy="264.72" r="0.85"/><circle cx="432.13" cy="275.18" r="0.85"/><circle cx="434.7" cy="274.2" r="0.85"/><circle cx="437.27" cy="265.74" r="0.85"/><circle cx="439.84" cy="265.23" r="0.85"/><circle cx="442.4" cy="263.04" r="0.85"/><circle cx="444.97" cy="259.2" r="0.85"/><circle cx="447.54" cy="258.87" r="0.85"/><circle cx="450.1" cy="245.29" r="0.85"/><circle cx="452.67" cy="240.61" r="0.85"/><circle cx="455.24" cy="239.06" r="0.85"/><circle cx="457.8" cy="234.35" r="0.85"/><circle cx="460.37" cy="229.17" r="0.85"/><circle cx="462.94" cy="233.55" r="0.85"/><circle cx="465.51" cy="244.66" r="0.85"/><circle cx="468.07" cy="254.28" r="0.85"/><circle cx="470.64" cy="257.64" r="0.85"/><circle cx="473.21" cy="256.87" r="0.85"/><circle cx="475.77" cy="256.57" r="0.85"/><circle cx="478.34" cy="259.13" r="0.85"/><circle cx="480.91" cy="263.35" r="0.85"/><circle cx="483.47" cy="267.9" r="0.85"/><circle cx="486.04" cy="270.95" r="0.85"/><circle cx="488.61" cy="272.5" r="0.85"/><circle cx="491.18" cy="271.83" r="0.85"/><circle cx="493.74" cy="276.8" r="0.85"/><circle cx="496.31" cy="286.45" r="0.85"/><circle cx="498.88" cy="290.41" r="0.85"/><circle cx="501.44" cy="288.52" r="0.85"/><circle cx="504.01" cy="287.44" r="0.85"/><circle cx="506.58" cy="287.88" r="0.85"/><circle cx="509.15" cy="284.58" r="0.85"/><circle cx="511.71" cy="278.85" r="0.85"/><circle cx="514.28" cy="283.21" r="0.85"/><circle cx="516.85" cy="284.75" r="0.85"/><circle cx="519.41" cy="286.85" r="0.85"/><circle cx="521.98" cy="288.82" r="0.85"/><circle cx="524.55" cy="288.66" r="0.85"/><circle cx="527.11" cy="287.44" r="0.85"/><circle cx="529.68" cy="287.35" r="0.85"/><circle cx="532.25" cy="286.97" r="0.85"/><circle cx="534.82" cy="286.61" r="0.85"/><circle cx="537.38" cy="286.65" r="0.85"/><circle cx="539.95" cy="287.64" r="0.85"/><circle cx="542.52" cy="290.21" r="0.85"/></g>
<path d="M428.06 282.12 L439.76 264.02 L445.08 257.64 L457.85 236.35 L472.74 260.83 L484.44 270.41 L497.2 282.12 L513.15 294.89 L534.43 298.08" stroke="#f01818" stroke-width="0.75" fill="none" stroke-linejoin="round"/>
<g fill="#f01818"><circle cx="428.06" cy="282.12" r="0.85"/><circle cx="439.76" cy="264.02" r="0.85"/><circle cx="445.08" cy="257.64" r="0.85"/><circle cx="457.85" cy="236.35" r="0.85"/><circle cx="472.74" cy="260.83" r="0.85"/><circle cx="484.44" cy="270.41" r="0.85"/><circle cx="497.2" cy="282.12" r="0.85"/><circle cx="513.15" cy="294.89" r="0.85"/><circle cx="534.43" cy="298.08" r="0.85"/></g>
</g>
<rect x="427" y="214.9" width="116.8" height="84.8" fill="none" stroke="#d6d6d6" stroke-width="0.6"/>
<rect x="483.37" y="221.45" width="56.37" height="21" rx="1.2" fill="#efefef"/>
<text x="486.17" y="228.25" class="lg">N = 4</text>
<text x="486.17" y="234.05" class="lg">Chl-a = 9.43 ± 0.09 mg m<tspan dy="-1.6" font-size="3">−3</tspan></text>
<text x="486.17" y="239.05" class="lg">AOD = 0.05 ± 0.03</text>
<text x="485.4" y="214.35" class="tt">Palgrunden (P)</text>
<text x="426.4" y="224.7" class="yk">0.005</text>
<text x="426.4" y="239.98" class="yk">0.004</text>
<text x="426.4" y="255.26" class="yk">0.003</text>
<text x="426.4" y="270.54" class="yk">0.002</text>
<text x="426.4" y="285.82" class="yk">0.001</text>
<text x="426.4" y="301.1" class="yk">0.000</text>
<text x="427.2" y="303.9" class="xk">440</text>
<text x="443.68" y="303.9" class="xk">505</text>
<text x="460.16" y="303.9" class="xk">570</text>
<text x="476.65" y="303.9" class="xk">635</text>
<text x="493.13" y="303.9" class="xk">700</text>
<text x="509.61" y="303.9" class="xk">765</text>
<text x="526.09" y="303.9" class="xk">830</text>
<text x="542.58" y="303.9" class="xk">895</text>
<text x="485.4" y="308" class="xl">Wavelength (nm)</text>
<text transform="translate(414.8 257.3) rotate(-90)" class="yl">Rrs (sr<tspan dy="-1.4" font-size="3">−1</tspan><tspan dy="1.4">)</tspan></text>
</g>
<g>
<rect x="21.5" y="317.2" width="116.3" height="84.8" fill="#fff"/>
<path d="M21.7 317.2V402M38.11 317.2V402M54.52 317.2V402M70.94 317.2V402M87.35 317.2V402M103.76 317.2V402M120.17 317.2V402M136.58 317.2V402M21.5 324.7H137.8M21.5 335.74H137.8M21.5 346.79H137.8M21.5 357.83H137.8M21.5 368.87H137.8M21.5 379.91H137.8M21.5 390.96H137.8M21.5 402H137.8" stroke="#eeeeee" stroke-width="0.5" fill="none"/>
<g clip-path="url(#c13)">
<path d="M21 322.15 L31.73 328.59 L39.24 333.96 L42.45 336.1 L53.18 339.75 L54.9 339.97 L56.19 344.69 L58.55 352.63 L63.05 359.07 L70.13 359.71 L74.64 362.51 L81.72 363.15 L86.22 363.79 L89.65 365.51 L93.09 366.8 L96.73 363.58 L99.95 365.51 L102.74 367.01 L105.32 360.57 L107.89 365.94 L116.04 368.09 L120.55 365.3 L127.63 365.94 L133.21 368.09 L139 376.24 L139 389.98 L133.21 380.96 L127.63 378.6 L120.55 378.6 L116.04 384.4 L107.89 376.24 L102.74 377.53 L99.95 374.53 L95.45 378.17 L92.01 385.04 L87.29 373.45 L81.72 371.31 L74.64 370.66 L68.84 368.94 L63.05 367.66 L57.47 363.15 L52.75 358.43 L46.96 356.28 L39.88 357.35 L31.73 351.13 L21 346.84 Z" fill="#cdcdcd"/>
<path d="M22.07 371.73 L33.87 365.3 L39.24 363.15 L51.47 359.07 L66.7 386.33 L78.93 389.98 L99.95 395.56 L129.35 401.57 L129.35 402 L99.95 400.5 L78.93 398.14 L66.7 395.56 L51.47 385.04 L39.24 383.97 L33.87 384.61 L22.07 387.83 Z" fill="#ff0000" fill-opacity="0.4"/>
<path d="M21 333.31 L26.36 339.32 L31.73 338.68 L34.95 341.47 L38.16 341.9 L40.31 347.91 L44.6 345.12 L49.32 346.84 L54.47 348.77 L57.47 353.92 L58.97 359.71 L63.05 363.79 L67.77 364.22 L71.2 365.3 L74.64 367.66 L79.36 367.66 L83.86 368.94 L87.29 368.3 L92.01 378.17 L94.8 372.38 L97.81 369.59 L99.95 371.31 L102.74 373.45 L105.32 364.65 L107.89 371.09 L112.4 372.16 L116.04 377.32 L120.55 372.16 L127.41 372.81 L132.13 373.88 L136.85 379.68 L139 384.4" stroke="#000" stroke-width="0.55" fill="none" stroke-linejoin="round"/>
<g fill="#000"><circle cx="21.5" cy="333.87" r="0.85"/><circle cx="24.06" cy="336.74" r="0.85"/><circle cx="26.61" cy="339.29" r="0.85"/><circle cx="29.17" cy="338.99" r="0.85"/><circle cx="31.72" cy="338.68" r="0.85"/><circle cx="34.28" cy="340.89" r="0.85"/><circle cx="36.84" cy="341.72" r="0.85"/><circle cx="39.39" cy="345.34" r="0.85"/><circle cx="41.95" cy="346.84" r="0.85"/><circle cx="44.5" cy="345.18" r="0.85"/><circle cx="47.06" cy="346.01" r="0.85"/><circle cx="49.62" cy="346.95" r="0.85"/><circle cx="52.17" cy="347.91" r="0.85"/><circle cx="54.73" cy="349.21" r="0.85"/><circle cx="57.28" cy="353.6" r="0.85"/><circle cx="59.84" cy="360.58" r="0.85"/><circle cx="62.4" cy="363.14" r="0.85"/><circle cx="64.95" cy="363.97" r="0.85"/><circle cx="67.51" cy="364.2" r="0.85"/><circle cx="70.06" cy="364.94" r="0.85"/><circle cx="72.62" cy="366.27" r="0.85"/><circle cx="75.18" cy="367.66" r="0.85"/><circle cx="77.73" cy="367.66" r="0.85"/><circle cx="80.29" cy="367.92" r="0.85"/><circle cx="82.85" cy="368.65" r="0.85"/><circle cx="85.4" cy="368.66" r="0.85"/><circle cx="87.96" cy="369.69" r="0.85"/><circle cx="90.51" cy="375.03" r="0.85"/><circle cx="93.07" cy="375.98" r="0.85"/><circle cx="95.63" cy="371.62" r="0.85"/><circle cx="98.18" cy="369.89" r="0.85"/><circle cx="100.74" cy="371.91" r="0.85"/><circle cx="103.29" cy="371.57" r="0.85"/><circle cx="105.85" cy="365.98" r="0.85"/><circle cx="108.41" cy="371.21" r="0.85"/><circle cx="110.96" cy="371.82" r="0.85"/><circle cx="113.52" cy="373.75" r="0.85"/><circle cx="116.07" cy="377.28" r="0.85"/><circle cx="118.63" cy="374.36" r="0.85"/><circle cx="121.19" cy="372.22" r="0.85"/><circle cx="123.74" cy="372.46" r="0.85"/><circle cx="126.3" cy="372.7" r="0.85"/><circle cx="128.85" cy="373.14" r="0.85"/><circle cx="131.41" cy="373.72" r="0.85"/><circle cx="133.97" cy="376.13" r="0.85"/><circle cx="136.52" cy="379.27" r="0.85"/></g>
<path d="M22.07 381.82 L33.87 374.95 L39.24 373.88 L52.11 371.73 L67.13 393.2 L78.93 396.42 L107.89 401.36 L129.35 402" stroke="#f01818" stroke-width="0.75" fill="none" stroke-linejoin="round"/>
<g fill="#f01818"><circle cx="22.07" cy="381.82" r="0.85"/><circle cx="33.87" cy="374.95" r="0.85"/><circle cx="39.24" cy="373.88" r="0.85"/><circle cx="52.11" cy="371.73" r="0.85"/><circle cx="67.13" cy="393.2" r="0.85"/><circle cx="78.93" cy="396.42" r="0.85"/><circle cx="107.89" cy="401.36" r="0.85"/><circle cx="129.35" cy="402" r="0.85"/></g>
</g>
<rect x="21.5" y="317.2" width="116.3" height="84.8" fill="none" stroke="#d6d6d6" stroke-width="0.6"/>
<rect x="74.64" y="326.66" width="59" height="21" rx="1.2" fill="#efefef"/>
<text x="77.44" y="333.46" class="lg">N = 3</text>
<text x="77.44" y="339.26" class="lg">Chl-a = 2.61 ± 1.36 mg m<tspan dy="-1.6" font-size="3">−3</tspan></text>
<text x="77.44" y="344.26" class="lg">AOD = 0.21 ± 0.02</text>
<text x="79.65" y="316.65" class="tt">San Marco (SM)</text>
<text x="20.9" y="326.1" class="yk">0.018</text>
<text x="20.9" y="337.14" class="yk">0.015</text>
<text x="20.9" y="348.19" class="yk">0.013</text>
<text x="20.9" y="359.23" class="yk">0.010</text>
<text x="20.9" y="370.27" class="yk">0.007</text>
<text x="20.9" y="381.31" class="yk">0.005</text>
<text x="20.9" y="392.36" class="yk">0.003</text>
<text x="20.9" y="403.4" class="yk">0.000</text>
<text x="21.7" y="406.2" class="xk">440</text>
<text x="38.11" y="406.2" class="xk">505</text>
<text x="54.52" y="406.2" class="xk">570</text>
<text x="70.94" y="406.2" class="xk">635</text>
<text x="87.35" y="406.2" class="xk">700</text>
<text x="103.76" y="406.2" class="xk">765</text>
<text x="120.17" y="406.2" class="xk">830</text>
<text x="136.58" y="406.2" class="xk">895</text>
<text x="79.65" y="410.3" class="xl">Wavelength (nm)</text>
<text transform="translate(9.3 359.6) rotate(-90)" class="yl">Rrs (sr<tspan dy="-1.4" font-size="3">−1</tspan><tspan dy="1.4">)</tspan></text>
</g>
<g>
<rect x="156.4" y="317.2" width="116.3" height="84.8" fill="#fff"/>
<path d="M156.6 317.2V402M173.01 317.2V402M189.42 317.2V402M205.84 317.2V402M222.25 317.2V402M238.66 317.2V402M255.07 317.2V402M271.48 317.2V402M156.4 324.7H272.7M156.4 335.74H272.7M156.4 346.79H272.7M156.4 357.83H272.7M156.4 368.87H272.7M156.4 379.91H272.7M156.4 390.96H272.7M156.4 402H272.7" stroke="#eeeeee" stroke-width="0.5" fill="none"/>
<g clip-path="url(#c14)">
<path d="M156 327.62 L158.13 326.56 L160.25 325.5 L162.38 324.44 L164.51 323.38 L166.64 322.31 L168.76 322.95 L170.89 322.31 L173.02 323.38 L175.15 325.5 L177.27 324.44 L179.4 323.38 L181.53 323.38 L183.65 324.44 L185.78 326.56 L187.91 328.69 L190.04 331.88 L192.16 337.19 L194.29 342.5 L196.42 347.81 L198.55 352.06 L200.67 354.19 L204.93 355.25 L209.18 356.31 L213.44 357.38 L217.69 358.44 L221.95 359.5 L225.14 361.62 L226.2 365.88 L228.33 368 L230.45 365.88 L232.58 364.81 L234.71 365.88 L236.84 368 L238.96 364.81 L240.03 361.62 L241.09 364.81 L243.22 366.94 L245.35 368 L249.6 369.06 L253.85 368 L258.11 368 L262.36 369.06 L266.62 369.06 L270.87 370.12 L273 371.19 L273 406.25 L195.35 406.25 L193.23 397.75 L190.04 391.38 L186.85 388.19 L181.53 388.19 L175.15 387.12 L168.76 385 L162.38 380.75 L156 377.56 Z" fill="#cdcdcd"/>
<path d="M157.06 374.38 L168.76 363.75 L174.08 360.56 L186.85 358.44 L201.74 390.31 L213.44 394.56 L242.15 400.94 L263.43 401.57 L263.43 402.43 L242.15 402.43 L213.44 400.3 L201.74 398.81 L186.85 392.44 L174.08 393.5 L168.76 394.56 L157.06 394.56 Z" fill="#ff0000" fill-opacity="0.4"/>
<path d="M156 351 L158.13 351.43 L160.25 353.12 L161.32 355.25 L162.38 354.19 L163.45 352.06 L164.51 353.12 L165.57 351 L166.64 353.12 L167.7 352.06 L168.76 354.19 L169.83 352.7 L170.89 354.19 L171.95 353.55 L173.02 354.19 L175.15 357.38 L177.27 356.31 L179.4 355.25 L181.53 354.82 L183.65 355.25 L185.78 356.31 L187.91 356.95 L190.04 359.5 L191.1 361.62 L192.16 364.81 L193.23 368 L194.29 370.12 L196.42 372.68 L198.55 374.38 L200.67 374.8 L202.8 375.44 L204.93 376.5 L207.05 377.56 L209.18 378.62 L211.31 379.05 L213.44 379.69 L215.56 379.69 L217.69 380.32 L219.82 380.32 L221.95 380.75 L224.07 382.88 L226.2 387.12 L228.33 386.06 L230.45 384.57 L232.58 385 L234.71 386.06 L236.84 387.12 L238.96 382.88 L240.67 380.32 L242.15 382.88 L244.28 384.57 L246.41 385 L249.6 387.12 L251.73 388.19 L253.85 387.12 L255.98 386.7 L260.24 386.7 L264.49 387.12 L268.75 388.19 L270.87 390.31 L273 391.38" stroke="#000" stroke-width="0.55" fill="none" stroke-linejoin="round"/>
<g fill="#000"><circle cx="156.4" cy="351.08" r="0.85"/><circle cx="158.96" cy="352.09" r="0.85"/><circle cx="161.51" cy="355.06" r="0.85"/><circle cx="164.07" cy="352.68" r="0.85"/><circle cx="166.62" cy="353.1" r="0.85"/><circle cx="169.18" cy="353.6" r="0.85"/><circle cx="171.74" cy="353.68" r="0.85"/><circle cx="174.29" cy="356.1" r="0.85"/><circle cx="176.85" cy="356.52" r="0.85"/><circle cx="179.4" cy="355.25" r="0.85"/><circle cx="181.96" cy="354.91" r="0.85"/><circle cx="184.52" cy="355.68" r="0.85"/><circle cx="187.07" cy="356.7" r="0.85"/><circle cx="189.63" cy="359.01" r="0.85"/><circle cx="192.18" cy="364.88" r="0.85"/><circle cx="194.74" cy="370.66" r="0.85"/><circle cx="197.3" cy="373.38" r="0.85"/><circle cx="199.85" cy="374.64" r="0.85"/><circle cx="202.41" cy="375.32" r="0.85"/><circle cx="204.96" cy="376.52" r="0.85"/><circle cx="207.52" cy="377.8" r="0.85"/><circle cx="210.08" cy="378.8" r="0.85"/><circle cx="212.63" cy="379.45" r="0.85"/><circle cx="215.19" cy="379.69" r="0.85"/><circle cx="217.75" cy="380.32" r="0.85"/><circle cx="220.3" cy="380.42" r="0.85"/><circle cx="222.86" cy="381.66" r="0.85"/><circle cx="225.41" cy="385.55" r="0.85"/><circle cx="227.97" cy="386.24" r="0.85"/><circle cx="230.53" cy="384.59" r="0.85"/><circle cx="233.08" cy="385.25" r="0.85"/><circle cx="235.64" cy="386.53" r="0.85"/><circle cx="238.19" cy="384.41" r="0.85"/><circle cx="240.75" cy="380.47" r="0.85"/><circle cx="243.31" cy="383.79" r="0.85"/><circle cx="245.86" cy="384.89" r="0.85"/><circle cx="248.42" cy="386.34" r="0.85"/><circle cx="250.97" cy="387.81" r="0.85"/><circle cx="253.53" cy="387.29" r="0.85"/><circle cx="256.09" cy="386.7" r="0.85"/><circle cx="258.64" cy="386.7" r="0.85"/><circle cx="261.2" cy="386.8" r="0.85"/><circle cx="263.75" cy="387.05" r="0.85"/><circle cx="266.31" cy="387.58" r="0.85"/><circle cx="268.87" cy="388.31" r="0.85"/><circle cx="271.42" cy="390.59" r="0.85"/></g>
<path d="M157.06 386.7 L168.76 379.26 L174.08 377.56 L186.85 375.44 L201.74 394.56 L213.44 396.69 L242.15 401.57 L263.43 402" stroke="#f01818" stroke-width="0.75" fill="none" stroke-linejoin="round"/>
<g fill="#f01818"><circle cx="157.06" cy="386.7" r="0.85"/><circle cx="168.76" cy="379.26" r="0.85"/><circle cx="174.08" cy="377.56" r="0.85"/><circle cx="186.85" cy="375.44" r="0.85"/><circle cx="201.74" cy="394.56" r="0.85"/><circle cx="213.44" cy="396.69" r="0.85"/><circle cx="242.15" cy="401.57" r="0.85"/><circle cx="263.43" cy="402" r="0.85"/></g>
</g>
<rect x="156.4" y="317.2" width="116.3" height="84.8" fill="none" stroke="#d6d6d6" stroke-width="0.6"/>
<rect x="209.18" y="326.56" width="58.5" height="21" rx="1.2" fill="#efefef"/>
<text x="211.98" y="333.36" class="lg">N = 8</text>
<text x="211.98" y="339.16" class="lg">Chl-a = 1.67 ± 1.05 mg m<tspan dy="-1.6" font-size="3">−3</tspan></text>
<text x="211.98" y="344.16" class="lg">AOD = 0.15 ± 0.08</text>
<text x="214.55" y="316.65" class="tt">Section 7 (S7)</text>
<text x="155.8" y="326.1" class="yk">0.018</text>
<text x="155.8" y="337.14" class="yk">0.015</text>
<text x="155.8" y="348.19" class="yk">0.013</text>
<text x="155.8" y="359.23" class="yk">0.010</text>
<text x="155.8" y="370.27" class="yk">0.007</text>
<text x="155.8" y="381.31" class="yk">0.005</text>
<text x="155.8" y="392.36" class="yk">0.003</text>
<text x="155.8" y="403.4" class="yk">0.000</text>
<text x="156.6" y="406.2" class="xk">440</text>
<text x="173.01" y="406.2" class="xk">505</text>
<text x="189.42" y="406.2" class="xk">570</text>
<text x="205.84" y="406.2" class="xk">635</text>
<text x="222.25" y="406.2" class="xk">700</text>
<text x="238.66" y="406.2" class="xk">765</text>
<text x="255.07" y="406.2" class="xk">830</text>
<text x="271.48" y="406.2" class="xk">895</text>
<text x="214.55" y="410.3" class="xl">Wavelength (nm)</text>
<text transform="translate(144.2 359.6) rotate(-90)" class="yl">Rrs (sr<tspan dy="-1.4" font-size="3">−1</tspan><tspan dy="1.4">)</tspan></text>
</g>
<g>
<rect x="292" y="317.2" width="116.3" height="84.8" fill="#fff"/>
<path d="M292.2 317.2V402M308.61 317.2V402M325.02 317.2V402M341.44 317.2V402M357.85 317.2V402M374.26 317.2V402M390.67 317.2V402M407.08 317.2V402M292 324.2H408.3M292 333.93H408.3M292 343.65H408.3M292 353.38H408.3M292 363.1H408.3M292 372.82H408.3M292 382.55H408.3M292 392.27H408.3M292 402H408.3" stroke="#eeeeee" stroke-width="0.5" fill="none"/>
<g clip-path="url(#c15)">
<path d="M292 322.31 L294.13 323.38 L296.25 326.56 L298.38 324.44 L300.51 325.5 L302.64 323.38 L304.76 325.5 L306.89 327.62 L309.02 329.75 L311.15 331.88 L313.27 332.3 L315.4 332.94 L317.53 334 L319.65 336.12 L321.78 338.25 L323.91 340.38 L326.04 342.5 L328.16 345.69 L330.29 348.88 L332.42 352.06 L334.55 354.19 L338.8 356.31 L343.05 358.44 L347.31 360.56 L351.56 362.69 L355.82 364.81 L360.07 366.94 L364.33 369.06 L368.58 370.12 L372.84 372.25 L373.9 369.06 L374.96 366.94 L376.03 369.06 L377.09 372.25 L381.35 373.31 L385.6 373.95 L389.85 374.38 L394.11 374.8 L398.36 375.44 L402.62 376.5 L406.87 377.56 L409 378.62 L409 406.25 L347.73 406.25 L346.25 399.88 L338.8 395.62 L330.29 389.25 L321.78 385 L313.27 382.88 L302.64 381.81 L292 380.75 Z" fill="#cdcdcd"/>
<path d="M293.06 372.25 L304.76 361.62 L314.34 361.62 L319.65 361.62 L349.44 394.56 L399.43 398.81 L399.43 401.57 L349.44 400.3 L319.65 390.31 L314.34 389.25 L304.76 390.31 L293.06 392.44 Z" fill="#ff0000" fill-opacity="0.4"/>
<path d="M292 348.88 L294.13 349.94 L295.19 352.06 L296.25 355.25 L297.32 353.12 L298.38 351 L299.45 354.19 L300.51 356.31 L301.57 353.12 L302.64 351 L303.7 354.19 L304.76 352.7 L305.83 354.19 L306.89 353.12 L307.95 354.82 L309.02 355.25 L311.15 359.5 L313.27 358.44 L315.4 357.38 L317.53 357.38 L319.65 358.44 L321.78 359.5 L323.91 360.56 L324.97 362.69 L326.04 362.69 L328.16 365.88 L330.29 368 L332.42 371.19 L334.55 374.38 L336.67 374.8 L338.8 374.8 L340.93 375.44 L343.05 376.5 L345.18 377.56 L347.31 378.2 L349.44 378.62 L351.56 379.05 L353.69 379.69 L355.82 380.75 L357.95 381.81 L360.07 382.88 L362.2 386.06 L364.33 385 L366.45 384.57 L368.58 385.43 L370.71 386.7 L372.84 388.19 L374.96 383.94 L376.03 380.32 L377.09 383.94 L379.22 385 L381.35 386.06 L383.47 387.12 L385.6 387.12 L389.85 387.12 L394.11 387.12 L398.36 387.12 L402.62 387.55 L405.81 389.25 L409 390.31" stroke="#000" stroke-width="0.55" fill="none" stroke-linejoin="round"/>
<g fill="#000"><circle cx="292" cy="348.88" r="0.85"/><circle cx="294.56" cy="350.79" r="0.85"/><circle cx="297.11" cy="353.54" r="0.85"/><circle cx="299.67" cy="354.63" r="0.85"/><circle cx="302.22" cy="351.82" r="0.85"/><circle cx="304.78" cy="352.72" r="0.85"/><circle cx="307.34" cy="353.84" r="0.85"/><circle cx="309.89" cy="357" r="0.85"/><circle cx="312.45" cy="358.85" r="0.85"/><circle cx="315" cy="357.57" r="0.85"/><circle cx="317.56" cy="357.39" r="0.85"/><circle cx="320.12" cy="358.67" r="0.85"/><circle cx="322.67" cy="359.94" r="0.85"/><circle cx="325.23" cy="362.69" r="0.85"/><circle cx="327.78" cy="365.31" r="0.85"/><circle cx="330.34" cy="368.07" r="0.85"/><circle cx="332.9" cy="371.9" r="0.85"/><circle cx="335.45" cy="374.56" r="0.85"/><circle cx="338.01" cy="374.8" r="0.85"/><circle cx="340.56" cy="375.33" r="0.85"/><circle cx="343.12" cy="376.53" r="0.85"/><circle cx="345.68" cy="377.71" r="0.85"/><circle cx="348.23" cy="378.38" r="0.85"/><circle cx="350.79" cy="378.9" r="0.85"/><circle cx="353.35" cy="379.58" r="0.85"/><circle cx="355.9" cy="380.79" r="0.85"/><circle cx="358.46" cy="382.07" r="0.85"/><circle cx="361.01" cy="384.28" r="0.85"/><circle cx="363.57" cy="385.38" r="0.85"/><circle cx="366.13" cy="384.64" r="0.85"/><circle cx="368.68" cy="385.48" r="0.85"/><circle cx="371.24" cy="387.07" r="0.85"/><circle cx="373.79" cy="386.28" r="0.85"/><circle cx="376.35" cy="381.42" r="0.85"/><circle cx="378.91" cy="384.84" r="0.85"/><circle cx="381.46" cy="386.12" r="0.85"/><circle cx="384.02" cy="387.12" r="0.85"/><circle cx="386.57" cy="387.12" r="0.85"/><circle cx="389.13" cy="387.12" r="0.85"/><circle cx="391.69" cy="387.12" r="0.85"/><circle cx="394.24" cy="387.12" r="0.85"/><circle cx="396.8" cy="387.12" r="0.85"/><circle cx="399.35" cy="387.22" r="0.85"/><circle cx="401.91" cy="387.48" r="0.85"/><circle cx="404.47" cy="388.53" r="0.85"/><circle cx="407.02" cy="389.65" r="0.85"/></g>
<path d="M293.06 383.94 L304.76 375.44 L314.34 376.5 L319.65 376.5 L349.44 397.32 L399.43 400.3" stroke="#f01818" stroke-width="0.75" fill="none" stroke-linejoin="round"/>
<g fill="#f01818"><circle cx="293.06" cy="383.94" r="0.85"/><circle cx="304.76" cy="375.44" r="0.85"/><circle cx="314.34" cy="376.5" r="0.85"/><circle cx="319.65" cy="376.5" r="0.85"/><circle cx="349.44" cy="397.32" r="0.85"/><circle cx="399.43" cy="400.3" r="0.85"/></g>
</g>
<rect x="292" y="317.2" width="116.3" height="84.8" fill="none" stroke="#d6d6d6" stroke-width="0.6"/>
<rect x="346.25" y="326.56" width="57.44" height="21" rx="1.2" fill="#efefef"/>
<text x="349.05" y="333.36" class="lg">N = 6</text>
<text x="349.05" y="339.16" class="lg">Chl-a = 1.81 ± 0.61 mg m<tspan dy="-1.6" font-size="3">−3</tspan></text>
<text x="349.05" y="344.16" class="lg">AOD = 0.19 ± 0.18</text>
<text x="350.15" y="316.65" class="tt">Socheongcho (SO)</text>
<text x="291.4" y="325.6" class="yk">0.020</text>
<text x="291.4" y="335.32" class="yk">0.018</text>
<text x="291.4" y="345.05" class="yk">0.015</text>
<text x="291.4" y="354.77" class="yk">0.013</text>
<text x="291.4" y="364.5" class="yk">0.010</text>
<text x="291.4" y="374.22" class="yk">0.007</text>
<text x="291.4" y="383.95" class="yk">0.005</text>
<text x="291.4" y="393.67" class="yk">0.003</text>
<text x="291.4" y="403.4" class="yk">0.000</text>
<text x="292.2" y="406.2" class="xk">440</text>
<text x="308.61" y="406.2" class="xk">505</text>
<text x="325.02" y="406.2" class="xk">570</text>
<text x="341.44" y="406.2" class="xk">635</text>
<text x="357.85" y="406.2" class="xk">700</text>
<text x="374.26" y="406.2" class="xk">765</text>
<text x="390.67" y="406.2" class="xk">830</text>
<text x="407.08" y="406.2" class="xk">895</text>
<text x="350.15" y="410.3" class="xl">Wavelength (nm)</text>
<text transform="translate(279.8 359.6) rotate(-90)" class="yl">Rrs (sr<tspan dy="-1.4" font-size="3">−1</tspan><tspan dy="1.4">)</tspan></text>
</g>
<g>
<rect x="427" y="317.2" width="116.8" height="84.8" fill="#fff"/>
<path d="M427.2 317.2V402M443.68 317.2V402M460.16 317.2V402M476.65 317.2V402M493.13 317.2V402M509.61 317.2V402M526.09 317.2V402M542.58 317.2V402M427 324.2H543.8M427 333.93H543.8M427 343.65H543.8M427 353.38H543.8M427 363.1H543.8M427 372.82H543.8M427 382.55H543.8M427 392.27H543.8M427 402H543.8" stroke="#eeeeee" stroke-width="0.5" fill="none"/>
<g clip-path="url(#c16)">
<path d="M427 329.75 L429.13 334 L431.25 338.25 L433.38 339.31 L435.51 338.25 L437.64 337.19 L439.76 336.12 L441.89 335.06 L444.02 334 L446.15 331.88 L448.27 330.81 L450.4 328.69 L452.53 326.56 L454.65 325.5 L456.78 324.44 L458.91 323.38 L460.61 322.31 L462.1 324.44 L463.16 327.62 L465.29 331.88 L467.42 334 L469.55 335.06 L471.67 336.12 L473.8 338.25 L475.93 340.38 L478.05 342.5 L480.18 344.62 L482.31 346.75 L484.44 348.88 L486.56 348.88 L488.69 349.94 L490.82 352.06 L492.95 354.19 L495.07 356.31 L497.2 357.38 L499.33 355.25 L501.45 353.12 L503.58 352.06 L505.71 353.12 L507.84 354.19 L509.96 352.06 L511.03 351 L512.09 354.19 L514.22 356.31 L516.35 359.5 L518.47 361.62 L520.6 363.75 L522.73 362.69 L524.85 360.56 L526.98 360.56 L529.11 361.62 L531.24 362.69 L533.36 363.75 L535.49 364.81 L537.62 365.88 L539.75 368 L541.87 370.12 L544 371.19 L544 399.88 L533.36 397.32 L522.73 396.69 L512.09 391.38 L503.58 390.31 L499.33 392.44 L497.2 387.12 L494.01 376.5 L490.82 374.38 L486.56 375.44 L482.31 374.8 L475.93 372.68 L469.55 371.19 L463.16 369.06 L457.85 369.06 L452.53 375.44 L446.15 380.75 L439.76 385 L433.38 387.12 L430.19 388.19 L427 386.06 Z" fill="#cdcdcd"/>
<path d="M428.06 387.12 L439.76 372.25 L445.08 365.88 L457.85 339.31 L472.74 365.88 L487.63 375.44 L495.07 362.69 L534.43 396.69 L534.43 400.3 L495.07 390.31 L487.63 390.31 L472.74 386.06 L457.85 380.32 L445.08 389.25 L439.76 392.44 L428.06 396.69 Z" fill="#ff0000" fill-opacity="0.4"/>
<path d="M427 355.25 L429.13 357.38 L431.25 359.5 L433.38 364.81 L435.51 362.69 L436.57 360.56 L437.64 362.69 L438.7 360.56 L439.76 359.5 L440.83 358.44 L441.89 357.38 L442.95 356.31 L444.02 354.19 L445.08 353.12 L446.15 351 L448.27 346.75 L450.4 343.56 L452.53 339.31 L454.65 337.19 L456.78 336.12 L458.91 335.06 L460.61 332.94 L462.1 336.12 L463.16 339.31 L464.23 342.5 L465.29 345.69 L467.42 349.94 L469.55 353.12 L471.67 353.12 L473.8 352.7 L475.93 353.12 L478.05 355.25 L480.18 358.44 L482.31 360.56 L484.44 363.75 L486.56 365.45 L488.69 362.69 L489.75 359.5 L490.82 357.38 L492.95 362.69 L495.07 368 L497.2 375.44 L499.33 374.38 L501.45 373.31 L503.58 373.31 L505.71 375.44 L507.84 378.62 L509.96 369.06 L511.03 368 L512.09 372.25 L514.22 373.31 L516.35 373.31 L518.47 374.38 L520.6 376.5 L522.73 379.69 L524.85 378.62 L526.98 378.62 L529.11 378.62 L531.24 379.05 L533.36 379.69 L535.49 380.32 L537.62 380.75 L539.75 382.88 L541.87 385 L544 387.12" stroke="#000" stroke-width="0.55" fill="none" stroke-linejoin="round"/>
<g fill="#000"><circle cx="427" cy="355.25" r="0.85"/><circle cx="429.57" cy="357.81" r="0.85"/><circle cx="432.13" cy="361.7" r="0.85"/><circle cx="434.7" cy="363.49" r="0.85"/><circle cx="437.27" cy="361.95" r="0.85"/><circle cx="439.84" cy="359.43" r="0.85"/><circle cx="442.4" cy="356.86" r="0.85"/><circle cx="444.97" cy="353.24" r="0.85"/><circle cx="447.54" cy="348.22" r="0.85"/><circle cx="450.1" cy="344.01" r="0.85"/><circle cx="452.67" cy="339.17" r="0.85"/><circle cx="455.24" cy="336.9" r="0.85"/><circle cx="457.8" cy="335.61" r="0.85"/><circle cx="460.37" cy="333.24" r="0.85"/><circle cx="462.94" cy="338.64" r="0.85"/><circle cx="465.51" cy="346.12" r="0.85"/><circle cx="468.07" cy="350.92" r="0.85"/><circle cx="470.64" cy="353.12" r="0.85"/><circle cx="473.21" cy="352.82" r="0.85"/><circle cx="475.77" cy="353.09" r="0.85"/><circle cx="478.34" cy="355.68" r="0.85"/><circle cx="480.91" cy="359.16" r="0.85"/><circle cx="483.47" cy="362.31" r="0.85"/><circle cx="486.04" cy="365.03" r="0.85"/><circle cx="488.61" cy="362.79" r="0.85"/><circle cx="491.18" cy="358.27" r="0.85"/><circle cx="493.74" cy="364.68" r="0.85"/><circle cx="496.31" cy="372.33" r="0.85"/><circle cx="498.88" cy="374.6" r="0.85"/><circle cx="501.44" cy="373.32" r="0.85"/><circle cx="504.01" cy="373.74" r="0.85"/><circle cx="506.58" cy="376.74" r="0.85"/><circle cx="509.15" cy="372.74" r="0.85"/><circle cx="511.71" cy="370.74" r="0.85"/><circle cx="514.28" cy="373.31" r="0.85"/><circle cx="516.85" cy="373.56" r="0.85"/><circle cx="519.41" cy="375.31" r="0.85"/><circle cx="521.98" cy="378.57" r="0.85"/><circle cx="524.55" cy="378.78" r="0.85"/><circle cx="527.11" cy="378.62" r="0.85"/><circle cx="529.68" cy="378.74" r="0.85"/><circle cx="532.25" cy="379.35" r="0.85"/><circle cx="534.82" cy="380.12" r="0.85"/><circle cx="537.38" cy="380.7" r="0.85"/><circle cx="539.95" cy="383.08" r="0.85"/><circle cx="542.52" cy="385.64" r="0.85"/></g>
<path d="M428.06 392.86 L439.76 385.43 L445.08 380.75 L457.85 359.5 L472.74 375.44 L487.63 383.94 L495.07 378.62 L534.43 398.18" stroke="#f01818" stroke-width="0.75" fill="none" stroke-linejoin="round"/>
<g fill="#f01818"><circle cx="428.06" cy="392.86" r="0.85"/><circle cx="439.76" cy="385.43" r="0.85"/><circle cx="445.08" cy="380.75" r="0.85"/><circle cx="457.85" cy="359.5" r="0.85"/><circle cx="472.74" cy="375.44" r="0.85"/><circle cx="487.63" cy="383.94" r="0.85"/><circle cx="495.07" cy="378.62" r="0.85"/><circle cx="534.43" cy="398.18" r="0.85"/></g>
</g>
<rect x="427" y="317.2" width="116.8" height="84.8" fill="none" stroke="#d6d6d6" stroke-width="0.6"/>
<rect x="481.25" y="326.56" width="58.5" height="21" rx="1.2" fill="#efefef"/>
<text x="484.05" y="333.36" class="lg">N = 4</text>
<text x="484.05" y="339.16" class="lg">Chl-a = 72.24 ± 13.64 mg m<tspan dy="-1.6" font-size="3">−3</tspan></text>
<text x="484.05" y="344.16" class="lg">AOD = 0.18 ± 0.20</text>
<text x="485.4" y="316.65" class="tt">South Greenbay (SG)</text>
<text x="426.4" y="325.6" class="yk">0.016</text>
<text x="426.4" y="335.32" class="yk">0.014</text>
<text x="426.4" y="345.05" class="yk">0.012</text>
<text x="426.4" y="354.77" class="yk">0.010</text>
<text x="426.4" y="364.5" class="yk">0.008</text>
<text x="426.4" y="374.22" class="yk">0.006</text>
<text x="426.4" y="383.95" class="yk">0.004</text>
<text x="426.4" y="393.67" class="yk">0.002</text>
<text x="426.4" y="403.4" class="yk">0.000</text>
<text x="427.2" y="406.2" class="xk">440</text>
<text x="443.68" y="406.2" class="xk">505</text>
<text x="460.16" y="406.2" class="xk">570</text>
<text x="476.65" y="406.2" class="xk">635</text>
<text x="493.13" y="406.2" class="xk">700</text>
<text x="509.61" y="406.2" class="xk">765</text>
<text x="526.09" y="406.2" class="xk">830</text>
<text x="542.58" y="406.2" class="xk">895</text>
<text x="485.4" y="410.3" class="xl">Wavelength (nm)</text>
<text transform="translate(414.8 359.6) rotate(-90)" class="yl">Rrs (sr<tspan dy="-1.4" font-size="3">−1</tspan><tspan dy="1.4">)</tspan></text>
</g>
<g>
<rect x="21.5" y="419.4" width="116.3" height="84.8" fill="#fff"/>
<path d="M21.7 419.4V504.2M38.11 419.4V504.2M54.52 419.4V504.2M70.94 419.4V504.2M87.35 419.4V504.2M103.76 419.4V504.2M120.17 419.4V504.2M136.58 419.4V504.2M21.5 427.6H137.8M21.5 440.37H137.8M21.5 453.13H137.8M21.5 465.9H137.8M21.5 478.67H137.8M21.5 491.43H137.8M21.5 504.2H137.8" stroke="#eeeeee" stroke-width="0.5" fill="none"/>
<g clip-path="url(#c17)">
<path d="M21 424.37 L23.15 429.73 L24.22 434.03 L25.29 442.61 L26.36 451.2 L27.44 455.49 L28.51 456.56 L29.58 453.34 L30.65 451.2 L31.73 456.56 L32.8 459.78 L33.87 460.86 L34.95 458.71 L36.02 465.15 L37.09 470.52 L38.16 474.81 L39.24 478.03 L40.31 480.17 L42.45 481.25 L44.6 482.32 L46.75 483.39 L48.89 484.47 L51.04 484.47 L53.18 482.32 L55.33 488.76 L57.47 490.91 L59.62 493.05 L61.76 496.27 L63.91 498.42 L66.05 499.49 L68.2 500.14 L72.49 500.57 L76.78 501.21 L81.07 501.64 L85.36 501.64 L89.65 501.85 L93.95 502.28 L98.24 502.28 L102.53 501.64 L104.67 499.49 L106.82 501.64 L111.11 502.28 L117.55 502.71 L128.27 503.14 L139 503.57 L139 509.15 L61.76 509.15 L59.62 501.64 L57.47 499.49 L55.33 497.35 L53.18 493.05 L51.04 495.2 L48.89 491.98 L46.75 493.05 L44.6 494.13 L42.45 495.2 L40.31 494.13 L39.24 491.98 L38.16 487.69 L37.09 481.25 L36.02 474.81 L34.95 468.37 L33.87 469.44 L32.8 468.37 L31.73 466.22 L30.65 460.86 L29.58 461.93 L28.51 465.15 L27.44 466.22 L26.36 465.15 L25.29 461.93 L24.22 453.34 L23.15 446.9 L21 442.61 Z" fill="#cdcdcd"/>
<path d="M22.07 463 L33.87 463 L39.24 468.37 L54.25 479.1 L78.93 500.14 L104.67 501.64 L129.35 502.71 L129.35 503.79 L104.67 503.36 L78.93 502.71 L54.25 485.11 L39.24 475.24 L33.87 472.66 L22.07 473.73 Z" fill="#ff0000" fill-opacity="0.4"/>
<path d="M21 435.1 L22.07 436.17 L23.15 439.39 L24.22 444.76 L25.29 451.2 L26.36 458.71 L27.44 463 L28.51 461.93 L29.58 458.71 L30.65 456.56 L31.73 461.93 L32.8 464.08 L33.87 465.15 L34.95 464.08 L36.02 468.37 L37.09 473.73 L38.16 478.03 L39.24 483.39 L40.31 485.54 L42.45 486.61 L44.6 485.54 L46.75 484.47 L48.89 487.69 L51.04 490.91 L53.18 487.69 L55.33 493.05 L57.47 495.2 L59.62 498.42 L61.76 500.57 L63.91 501.64 L66.05 502.28 L68.2 501.64 L70.35 500.99 L72.49 501.64 L76.78 501.85 L81.07 502.28 L85.36 502.71 L89.65 502.71 L93.95 502.71 L98.24 503.14 L102.53 502.71 L104.67 500.57 L105.75 501.64 L106.82 503.14 L111.11 503.14 L115.4 503.36 L119.69 503.36 L123.98 503.36 L128.27 503.57 L132.56 503.57 L136.85 503.57 L139 503.57" stroke="#000" stroke-width="0.55" fill="none" stroke-linejoin="round"/>
<g fill="#000"><circle cx="21.5" cy="435.6" r="0.85"/><circle cx="24.06" cy="443.95" r="0.85"/><circle cx="26.61" cy="459.7" r="0.85"/><circle cx="29.17" cy="459.95" r="0.85"/><circle cx="31.72" cy="461.91" r="0.85"/><circle cx="34.28" cy="464.74" r="0.85"/><circle cx="36.84" cy="472.46" r="0.85"/><circle cx="39.39" cy="483.71" r="0.85"/><circle cx="41.95" cy="486.36" r="0.85"/><circle cx="44.5" cy="485.59" r="0.85"/><circle cx="47.06" cy="484.94" r="0.85"/><circle cx="49.62" cy="488.78" r="0.85"/><circle cx="52.17" cy="489.2" r="0.85"/><circle cx="54.73" cy="491.56" r="0.85"/><circle cx="57.28" cy="495.01" r="0.85"/><circle cx="59.84" cy="498.64" r="0.85"/><circle cx="62.4" cy="500.88" r="0.85"/><circle cx="64.95" cy="501.95" r="0.85"/><circle cx="67.51" cy="501.85" r="0.85"/><circle cx="70.06" cy="501.08" r="0.85"/><circle cx="72.62" cy="501.65" r="0.85"/><circle cx="75.18" cy="501.77" r="0.85"/><circle cx="77.73" cy="501.95" r="0.85"/><circle cx="80.29" cy="502.2" r="0.85"/><circle cx="82.85" cy="502.46" r="0.85"/><circle cx="85.4" cy="502.71" r="0.85"/><circle cx="87.96" cy="502.71" r="0.85"/><circle cx="90.51" cy="502.71" r="0.85"/><circle cx="93.07" cy="502.71" r="0.85"/><circle cx="95.63" cy="502.88" r="0.85"/><circle cx="98.18" cy="503.14" r="0.85"/><circle cx="100.74" cy="502.89" r="0.85"/><circle cx="103.29" cy="501.95" r="0.85"/><circle cx="105.85" cy="501.78" r="0.85"/><circle cx="108.41" cy="503.14" r="0.85"/><circle cx="110.96" cy="503.14" r="0.85"/><circle cx="113.52" cy="503.26" r="0.85"/><circle cx="116.07" cy="503.36" r="0.85"/><circle cx="118.63" cy="503.36" r="0.85"/><circle cx="121.19" cy="503.36" r="0.85"/><circle cx="123.74" cy="503.36" r="0.85"/><circle cx="126.3" cy="503.47" r="0.85"/><circle cx="128.85" cy="503.57" r="0.85"/><circle cx="131.41" cy="503.57" r="0.85"/><circle cx="133.97" cy="503.57" r="0.85"/><circle cx="136.52" cy="503.57" r="0.85"/></g>
<path d="M22.07 467.94 L33.87 467.51 L39.24 471.8 L54.25 482.32 L78.93 501.21 L104.67 502.28 L129.35 503.14" stroke="#f01818" stroke-width="0.75" fill="none" stroke-linejoin="round"/>
<g fill="#f01818"><circle cx="22.07" cy="467.94" r="0.85"/><circle cx="33.87" cy="467.51" r="0.85"/><circle cx="39.24" cy="471.8" r="0.85"/><circle cx="54.25" cy="482.32" r="0.85"/><circle cx="78.93" cy="501.21" r="0.85"/><circle cx="104.67" cy="502.28" r="0.85"/><circle cx="129.35" cy="503.14" r="0.85"/></g>
</g>
<rect x="21.5" y="419.4" width="116.3" height="84.8" fill="none" stroke="#d6d6d6" stroke-width="0.6"/>
<rect x="74.64" y="428.66" width="59" height="21" rx="1.2" fill="#efefef"/>
<text x="77.44" y="435.46" class="lg">N = 4</text>
<text x="77.44" y="441.26" class="lg">Chl-a = 0.89 ± 0.21 mg m<tspan dy="-1.6" font-size="3">−3</tspan></text>
<text x="77.44" y="446.26" class="lg">AOD = 0.05 ± 0.01</text>
<text x="79.65" y="418.85" class="tt">USC SEAPRISM (USC)</text>
<text x="20.9" y="429" class="yk">0.006</text>
<text x="20.9" y="441.77" class="yk">0.005</text>
<text x="20.9" y="454.53" class="yk">0.004</text>
<text x="20.9" y="467.3" class="yk">0.003</text>
<text x="20.9" y="480.07" class="yk">0.002</text>
<text x="20.9" y="492.83" class="yk">0.001</text>
<text x="20.9" y="505.6" class="yk">0.000</text>
<text x="21.7" y="508.4" class="xk">440</text>
<text x="38.11" y="508.4" class="xk">505</text>
<text x="54.52" y="508.4" class="xk">570</text>
<text x="70.94" y="508.4" class="xk">635</text>
<text x="87.35" y="508.4" class="xk">700</text>
<text x="103.76" y="508.4" class="xk">765</text>
<text x="120.17" y="508.4" class="xk">830</text>
<text x="136.58" y="508.4" class="xk">895</text>
<text x="79.65" y="512.5" class="xl">Wavelength (nm)</text>
<text transform="translate(9.3 461.8) rotate(-90)" class="yl">Rrs (sr<tspan dy="-1.4" font-size="3">−1</tspan><tspan dy="1.4">)</tspan></text>
</g>
<g>
<rect x="156.4" y="419.4" width="116.3" height="84.8" fill="#fff"/>
<path d="M156.6 419.4V504.2M173.01 419.4V504.2M189.42 419.4V504.2M205.84 419.4V504.2M222.25 419.4V504.2M238.66 419.4V504.2M255.07 419.4V504.2M271.48 419.4V504.2M156.4 429.1H272.7M156.4 438.49H272.7M156.4 447.88H272.7M156.4 457.26H272.7M156.4 466.65H272.7M156.4 476.04H272.7M156.4 485.43H272.7M156.4 494.81H272.7M156.4 504.2H272.7" stroke="#eeeeee" stroke-width="0.5" fill="none"/>
<g clip-path="url(#c18)">
<path d="M156 424.31 L158.13 425.38 L160.25 426.44 L162.38 427.5 L164.51 429.62 L166.64 428.56 L168.76 429.62 L170.89 431.75 L173.02 433.88 L175.15 436 L177.27 439.19 L179.4 441.31 L181.53 443.44 L183.65 445.56 L185.78 446.62 L187.91 448.75 L190.04 450.88 L192.16 454.06 L194.29 457.25 L196.42 460.44 L198.55 463.62 L200.67 466.81 L202.8 468.94 L204.93 471.06 L207.05 473.19 L209.18 474.68 L211.31 475.95 L213.44 477.44 L215.56 478.5 L219.82 480.62 L224.07 482.32 L228.33 483.81 L232.58 484.88 L236.84 483.81 L240.03 481.69 L241.09 482.75 L245.35 484.88 L249.6 487 L253.85 488.06 L258.11 489.12 L262.36 489.55 L266.62 490.19 L270.87 492.31 L273 494.44 L273 508.25 L213.01 508.25 L211.31 502.94 L198.55 495.5 L187.91 487 L177.27 480.62 L168.76 476.38 L156 474.25 Z" fill="#cdcdcd"/>
<path d="M157.06 468.94 L168.76 464.69 L179.4 470 L184.72 472.12 L213.44 500.18 L263.43 503.15 L263.43 504 L213.44 502.94 L184.72 492.31 L179.4 489.12 L168.76 487 L157.06 489.12 Z" fill="#ff0000" fill-opacity="0.4"/>
<path d="M156 445.56 L158.13 446.62 L160.25 447.69 L162.38 448.75 L163.45 450.88 L164.51 451.94 L165.57 449.81 L166.64 453 L167.7 451.94 L168.76 454.06 L169.83 453 L170.89 455.12 L171.95 457.25 L173.02 458.31 L174.08 459.38 L175.15 462.56 L177.27 463.62 L179.4 463.2 L181.53 464.69 L183.65 466.81 L185.78 468.94 L187.91 471.06 L190.04 473.19 L192.16 476.38 L194.29 480.62 L196.42 483.81 L198.55 485.3 L200.67 485.94 L202.8 486.57 L204.93 487.43 L207.05 488.27 L209.18 489.12 L211.31 489.55 L213.44 490.19 L215.56 490.82 L217.69 491.25 L219.82 491.68 L221.95 492.31 L224.07 493.38 L226.2 496.56 L228.33 497.62 L230.45 495.5 L232.58 495.07 L234.71 495.93 L236.84 495.5 L238.96 494.44 L240.03 492.95 L241.09 494.44 L243.22 495.93 L245.35 496.56 L247.47 498.05 L249.6 498.69 L251.73 499.32 L253.85 498.48 L255.98 498.05 L258.11 497.62 L262.36 497.62 L266.62 498.05 L270.87 499.75 L273 501.88" stroke="#000" stroke-width="0.55" fill="none" stroke-linejoin="round"/>
<g fill="#000"><circle cx="156.4" cy="445.76" r="0.85"/><circle cx="158.96" cy="447.04" r="0.85"/><circle cx="161.51" cy="448.32" r="0.85"/><circle cx="164.07" cy="451.5" r="0.85"/><circle cx="166.62" cy="452.96" r="0.85"/><circle cx="169.18" cy="453.65" r="0.85"/><circle cx="171.74" cy="456.81" r="0.85"/><circle cx="174.29" cy="460.01" r="0.85"/><circle cx="176.85" cy="463.41" r="0.85"/><circle cx="179.4" cy="463.2" r="0.85"/><circle cx="181.96" cy="465.12" r="0.85"/><circle cx="184.52" cy="467.67" r="0.85"/><circle cx="187.07" cy="470.23" r="0.85"/><circle cx="189.63" cy="472.78" r="0.85"/><circle cx="192.18" cy="476.42" r="0.85"/><circle cx="194.74" cy="481.3" r="0.85"/><circle cx="197.3" cy="484.43" r="0.85"/><circle cx="199.85" cy="485.69" r="0.85"/><circle cx="202.41" cy="486.46" r="0.85"/><circle cx="204.96" cy="487.44" r="0.85"/><circle cx="207.52" cy="488.46" r="0.85"/><circle cx="210.08" cy="489.3" r="0.85"/><circle cx="212.63" cy="489.95" r="0.85"/><circle cx="215.19" cy="490.71" r="0.85"/><circle cx="217.75" cy="491.26" r="0.85"/><circle cx="220.3" cy="491.82" r="0.85"/><circle cx="222.86" cy="492.77" r="0.85"/><circle cx="225.41" cy="495.38" r="0.85"/><circle cx="227.97" cy="497.45" r="0.85"/><circle cx="230.53" cy="495.49" r="0.85"/><circle cx="233.08" cy="495.27" r="0.85"/><circle cx="235.64" cy="495.74" r="0.85"/><circle cx="238.19" cy="494.82" r="0.85"/><circle cx="240.75" cy="493.96" r="0.85"/><circle cx="243.31" cy="495.95" r="0.85"/><circle cx="245.86" cy="496.92" r="0.85"/><circle cx="248.42" cy="498.33" r="0.85"/><circle cx="250.97" cy="499.1" r="0.85"/><circle cx="253.53" cy="498.6" r="0.85"/><circle cx="256.09" cy="498.03" r="0.85"/><circle cx="258.64" cy="497.62" r="0.85"/><circle cx="261.2" cy="497.62" r="0.85"/><circle cx="263.75" cy="497.76" r="0.85"/><circle cx="266.31" cy="498.02" r="0.85"/><circle cx="268.87" cy="498.95" r="0.85"/><circle cx="271.42" cy="500.3" r="0.85"/></g>
<path d="M157.06 482.11 L168.76 475.31 L179.4 479.56 L184.72 482.75 L213.44 501.45 L263.43 503.57" stroke="#f01818" stroke-width="0.75" fill="none" stroke-linejoin="round"/>
<g fill="#f01818"><circle cx="157.06" cy="482.11" r="0.85"/><circle cx="168.76" cy="475.31" r="0.85"/><circle cx="179.4" cy="479.56" r="0.85"/><circle cx="184.72" cy="482.75" r="0.85"/><circle cx="213.44" cy="501.45" r="0.85"/><circle cx="263.43" cy="503.57" r="0.85"/></g>
</g>
<rect x="156.4" y="419.4" width="116.3" height="84.8" fill="none" stroke="#d6d6d6" stroke-width="0.6"/>
<rect x="209.18" y="428.56" width="58.5" height="21" rx="1.2" fill="#efefef"/>
<text x="211.98" y="435.36" class="lg">N = 10</text>
<text x="211.98" y="441.16" class="lg">Chl-a = 0.73 ± 0.72 mg m<tspan dy="-1.6" font-size="3">−3</tspan></text>
<text x="211.98" y="446.16" class="lg">AOD = 0.16 ± 0.09</text>
<text x="214.55" y="418.85" class="tt">Venise (V)</text>
<text x="155.8" y="430.5" class="yk">0.016</text>
<text x="155.8" y="439.89" class="yk">0.014</text>
<text x="155.8" y="449.27" class="yk">0.012</text>
<text x="155.8" y="458.66" class="yk">0.010</text>
<text x="155.8" y="468.05" class="yk">0.008</text>
<text x="155.8" y="477.44" class="yk">0.006</text>
<text x="155.8" y="486.82" class="yk">0.004</text>
<text x="155.8" y="496.21" class="yk">0.002</text>
<text x="155.8" y="505.6" class="yk">0.000</text>
<text x="156.6" y="508.4" class="xk">440</text>
<text x="173.01" y="508.4" class="xk">505</text>
<text x="189.42" y="508.4" class="xk">570</text>
<text x="205.84" y="508.4" class="xk">635</text>
<text x="222.25" y="508.4" class="xk">700</text>
<text x="238.66" y="508.4" class="xk">765</text>
<text x="255.07" y="508.4" class="xk">830</text>
<text x="271.48" y="508.4" class="xk">895</text>
<text x="214.55" y="512.5" class="xl">Wavelength (nm)</text>
<text transform="translate(144.2 461.8) rotate(-90)" class="yl">Rrs (sr<tspan dy="-1.4" font-size="3">−1</tspan><tspan dy="1.4">)</tspan></text>
</g>
<g>
<rect x="292" y="419.4" width="116.3" height="84.8" fill="#fff"/>
<path d="M292.2 419.4V504.2M308.61 419.4V504.2M325.02 419.4V504.2M341.44 419.4V504.2M357.85 419.4V504.2M374.26 419.4V504.2M390.67 419.4V504.2M407.08 419.4V504.2M292 421.8H408.3M292 432.1H408.3M292 442.4H408.3M292 452.7H408.3M292 463H408.3M292 473.3H408.3M292 483.6H408.3M292 493.9H408.3M292 504.2H408.3" stroke="#eeeeee" stroke-width="0.5" fill="none"/>
<g clip-path="url(#c19)">
<path d="M292 454.06 L294.13 454.06 L296.25 453 L298.38 450.88 L300.51 447.69 L301.57 444.5 L302.64 445.56 L304.76 443.44 L306.89 440.25 L307.95 436 L309.02 437.06 L311.15 434.94 L313.27 432.81 L315.4 430.69 L317.53 427.5 L319.65 427.07 L321.78 426.44 L323.91 425.38 L325.61 424.31 L327.1 427.5 L328.16 431.75 L329.23 437.06 L330.29 442.38 L332.42 448.75 L334.55 455.12 L336.67 458.31 L338.8 460.44 L340.93 462.56 L343.05 464.69 L345.18 468.94 L347.31 473.19 L349.44 476.38 L351.56 478.5 L353.69 480.62 L355.82 482.75 L357.95 484.88 L360.07 489.12 L362.2 492.31 L364.33 494.44 L368.58 496.56 L372.84 496.56 L377.09 495.5 L381.35 496.56 L385.6 497.62 L389.85 495.5 L394.11 494.44 L398.36 494.44 L402.62 495.5 L406.87 497.62 L409 499.75 L409 508.25 L377.09 508.25 L366.45 502.94 L355.82 499.75 L345.18 497.62 L334.55 495.5 L323.91 494.44 L313.27 495.07 L302.64 493.38 L292 491.25 Z" fill="#cdcdcd"/>
<path d="M292 458.74 L302 452.15 L308.59 445.56 L315.19 438.98 L321.14 438.12 L326.89 440.46 L331.78 453.85 L336.89 462.14 L341.78 468.73 L346.67 474.68 L350.07 480.62 L359.86 484.45 L374.54 491.04 L390.92 496.77 L399.43 500.81 L399.43 504 L349.44 502.94 L327.1 502.3 L319.65 501.88 L314.34 501.88 L304.76 500.81 L293.06 499.75 Z" fill="#ff0000" fill-opacity="0.4"/>
<path d="M292 466.81 L294.13 467.88 L296.25 470 L297.32 472.12 L298.38 474.25 L299.45 473.19 L300.51 470 L301.57 471.06 L302.64 468.94 L303.7 470 L304.76 467.88 L305.83 466.81 L306.89 465.75 L307.95 464.69 L309.02 463.62 L310.08 465.75 L311.15 468.94 L312.21 466.81 L313.27 464.69 L315.4 462.56 L317.53 461.5 L319.65 460.44 L321.78 460.44 L323.91 459.38 L324.97 458.31 L326.04 459.38 L327.1 462.56 L328.16 467.88 L329.23 472.12 L330.29 475.31 L332.42 478.5 L334.55 479.56 L336.67 480.62 L338.8 481.05 L340.93 482.75 L343.05 484.88 L345.18 487 L347.31 488.06 L349.44 488.7 L351.56 489.12 L353.69 490.19 L355.82 491.25 L357.95 492.31 L360.07 494.44 L362.2 498.69 L364.33 499.75 L366.45 498.69 L368.58 499.32 L370.71 499.75 L372.84 499.32 L374.96 497.62 L376.03 496.56 L377.09 498.69 L379.22 499.75 L381.35 500.18 L383.47 500.39 L385.6 500.81 L387.73 500.81 L389.85 499.75 L394.11 499.32 L398.36 499.32 L402.62 499.75 L406.87 500.81 L409 501.88" stroke="#000" stroke-width="0.55" fill="none" stroke-linejoin="round"/>
<g fill="#000"><circle cx="292" cy="466.81" r="0.85"/><circle cx="294.56" cy="468.3" r="0.85"/><circle cx="297.11" cy="471.71" r="0.85"/><circle cx="299.67" cy="472.52" r="0.85"/><circle cx="302.22" cy="469.76" r="0.85"/><circle cx="304.78" cy="467.86" r="0.85"/><circle cx="307.34" cy="465.31" r="0.85"/><circle cx="309.89" cy="465.37" r="0.85"/><circle cx="312.45" cy="466.33" r="0.85"/><circle cx="315" cy="462.96" r="0.85"/><circle cx="317.56" cy="461.48" r="0.85"/><circle cx="320.12" cy="460.44" r="0.85"/><circle cx="322.67" cy="459.99" r="0.85"/><circle cx="325.23" cy="458.57" r="0.85"/><circle cx="327.78" cy="465.98" r="0.85"/><circle cx="330.34" cy="475.39" r="0.85"/><circle cx="332.9" cy="478.74" r="0.85"/><circle cx="335.45" cy="480.02" r="0.85"/><circle cx="338.01" cy="480.89" r="0.85"/><circle cx="340.56" cy="482.46" r="0.85"/><circle cx="343.12" cy="484.94" r="0.85"/><circle cx="345.68" cy="487.25" r="0.85"/><circle cx="348.23" cy="488.34" r="0.85"/><circle cx="350.79" cy="488.97" r="0.85"/><circle cx="353.35" cy="490.01" r="0.85"/><circle cx="355.9" cy="491.29" r="0.85"/><circle cx="358.46" cy="492.82" r="0.85"/><circle cx="361.01" cy="496.32" r="0.85"/><circle cx="363.57" cy="499.37" r="0.85"/><circle cx="366.13" cy="498.85" r="0.85"/><circle cx="368.68" cy="499.34" r="0.85"/><circle cx="371.24" cy="499.64" r="0.85"/><circle cx="373.79" cy="498.56" r="0.85"/><circle cx="376.35" cy="497.21" r="0.85"/><circle cx="378.91" cy="499.59" r="0.85"/><circle cx="381.46" cy="500.19" r="0.85"/><circle cx="384.02" cy="500.5" r="0.85"/><circle cx="386.57" cy="500.81" r="0.85"/><circle cx="389.13" cy="500.11" r="0.85"/><circle cx="391.69" cy="499.57" r="0.85"/><circle cx="394.24" cy="499.32" r="0.85"/><circle cx="396.8" cy="499.32" r="0.85"/><circle cx="399.35" cy="499.42" r="0.85"/><circle cx="401.91" cy="499.68" r="0.85"/><circle cx="404.47" cy="500.21" r="0.85"/><circle cx="407.02" cy="500.89" r="0.85"/></g>
<path d="M293.06 485.3 L304.76 476.38 L314.34 471.06 L319.65 470 L349.44 492.31 L399.43 502.3" stroke="#f01818" stroke-width="0.75" fill="none" stroke-linejoin="round"/>
<g fill="#f01818"><circle cx="293.06" cy="485.3" r="0.85"/><circle cx="304.76" cy="476.38" r="0.85"/><circle cx="314.34" cy="471.06" r="0.85"/><circle cx="319.65" cy="470" r="0.85"/><circle cx="349.44" cy="492.31" r="0.85"/><circle cx="399.43" cy="502.3" r="0.85"/></g>
</g>
<rect x="292" y="419.4" width="116.3" height="84.8" fill="none" stroke="#d6d6d6" stroke-width="0.6"/>
<rect x="346.25" y="428.56" width="57.44" height="21" rx="1.2" fill="#efefef"/>
<text x="349.05" y="435.36" class="lg">N = 3</text>
<text x="349.05" y="441.16" class="lg">Chl-a = 4.01 ± 0.70 mg m<tspan dy="-1.6" font-size="3">−3</tspan></text>
<text x="349.05" y="446.16" class="lg">AOD = 0.05 ± 0.01</text>
<text x="350.15" y="418.85" class="tt">WaveCIS (WCIS)</text>
<text x="291.4" y="423.2" class="yk">0.016</text>
<text x="291.4" y="433.5" class="yk">0.014</text>
<text x="291.4" y="443.8" class="yk">0.012</text>
<text x="291.4" y="454.1" class="yk">0.010</text>
<text x="291.4" y="464.4" class="yk">0.008</text>
<text x="291.4" y="474.7" class="yk">0.006</text>
<text x="291.4" y="485" class="yk">0.004</text>
<text x="291.4" y="495.3" class="yk">0.002</text>
<text x="291.4" y="505.6" class="yk">0.000</text>
<text x="292.2" y="508.4" class="xk">440</text>
<text x="308.61" y="508.4" class="xk">505</text>
<text x="325.02" y="508.4" class="xk">570</text>
<text x="341.44" y="508.4" class="xk">635</text>
<text x="357.85" y="508.4" class="xk">700</text>
<text x="374.26" y="508.4" class="xk">765</text>
<text x="390.67" y="508.4" class="xk">830</text>
<text x="407.08" y="508.4" class="xk">895</text>
<text x="350.15" y="512.5" class="xl">Wavelength (nm)</text>
<text transform="translate(279.8 461.8) rotate(-90)" class="yl">Rrs (sr<tspan dy="-1.4" font-size="3">−1</tspan><tspan dy="1.4">)</tspan></text>
</g>
<g>
<rect x="427" y="419.4" width="116.8" height="84.8" fill="#fff"/>
<path d="M427.2 419.4V504.2M443.68 419.4V504.2M460.16 419.4V504.2M476.65 419.4V504.2M493.13 419.4V504.2M509.61 419.4V504.2M526.09 419.4V504.2M542.58 419.4V504.2M427 432.2H543.8M427 446.6H543.8M427 461H543.8M427 475.4H543.8M427 489.8H543.8M427 504.2H543.8" stroke="#eeeeee" stroke-width="0.5" fill="none"/>
<g clip-path="url(#c20)">
<path d="M427 448.75 L429.13 446.62 L431.25 444.5 L433.38 442.38 L435.51 441.31 L437.64 439.19 L439.76 434.94 L440.83 432.81 L441.89 431.75 L442.95 433.88 L444.02 431.75 L445.08 430.69 L446.15 429.62 L447.21 430.69 L448.27 428.56 L449.34 426.44 L450.4 425.38 L452.53 424.95 L454.65 424.31 L456.78 424.31 L458.91 423.25 L459.97 423.68 L461.04 425.38 L462.1 428.56 L463.16 433.88 L464.23 438.12 L465.29 442.38 L466.35 445.56 L467.42 447.69 L469.55 448.75 L471.67 449.81 L473.8 450.88 L475.93 451.94 L478.05 454.06 L480.18 457.25 L482.31 460.44 L484.44 462.56 L486.56 463.62 L488.69 465.75 L490.82 468.94 L492.95 473.19 L494.01 476.38 L495.07 482.75 L497.2 489.12 L499.33 493.38 L501.45 493.8 L503.58 493.8 L505.71 493.8 L507.84 493.38 L509.96 492.31 L512.09 493.38 L514.22 493.8 L516.35 493.38 L518.47 493.8 L520.6 494.44 L522.73 495.07 L524.85 495.5 L526.98 496.56 L529.11 497.2 L531.24 498.05 L533.36 498.05 L535.49 497.62 L537.62 497.2 L539.75 498.05 L541.87 499.32 L544 500.18" stroke="#000" stroke-width="0.55" fill="none" stroke-linejoin="round"/>
<g fill="#000"><circle cx="427" cy="448.75" r="0.85"/><circle cx="429.57" cy="446.19" r="0.85"/><circle cx="432.13" cy="443.62" r="0.85"/><circle cx="434.7" cy="441.72" r="0.85"/><circle cx="437.27" cy="439.56" r="0.85"/><circle cx="439.84" cy="434.79" r="0.85"/><circle cx="442.4" cy="432.77" r="0.85"/><circle cx="444.97" cy="430.8" r="0.85"/><circle cx="447.54" cy="430.03" r="0.85"/><circle cx="450.1" cy="425.67" r="0.85"/><circle cx="452.67" cy="424.91" r="0.85"/><circle cx="455.24" cy="424.31" r="0.85"/><circle cx="457.8" cy="423.8" r="0.85"/><circle cx="460.37" cy="424.31" r="0.85"/><circle cx="462.94" cy="432.75" r="0.85"/><circle cx="465.51" cy="443.02" r="0.85"/><circle cx="468.07" cy="448.01" r="0.85"/><circle cx="470.64" cy="449.3" r="0.85"/><circle cx="473.21" cy="450.58" r="0.85"/><circle cx="475.77" cy="451.86" r="0.85"/><circle cx="478.34" cy="454.49" r="0.85"/><circle cx="480.91" cy="458.34" r="0.85"/><circle cx="483.47" cy="461.6" r="0.85"/><circle cx="486.04" cy="463.36" r="0.85"/><circle cx="488.61" cy="465.67" r="0.85"/><circle cx="491.18" cy="469.65" r="0.85"/><circle cx="493.74" cy="475.58" r="0.85"/><circle cx="496.31" cy="486.46" r="0.85"/><circle cx="498.88" cy="492.48" r="0.85"/><circle cx="501.44" cy="493.8" r="0.85"/><circle cx="504.01" cy="493.8" r="0.85"/><circle cx="506.58" cy="493.63" r="0.85"/><circle cx="509.15" cy="492.72" r="0.85"/><circle cx="511.71" cy="493.19" r="0.85"/><circle cx="514.28" cy="493.79" r="0.85"/><circle cx="516.85" cy="493.48" r="0.85"/><circle cx="519.41" cy="494.08" r="0.85"/><circle cx="521.98" cy="494.85" r="0.85"/><circle cx="524.55" cy="495.44" r="0.85"/><circle cx="527.11" cy="496.6" r="0.85"/><circle cx="529.68" cy="497.43" r="0.85"/><circle cx="532.25" cy="498.05" r="0.85"/><circle cx="534.82" cy="497.76" r="0.85"/><circle cx="537.38" cy="497.25" r="0.85"/><circle cx="539.95" cy="498.17" r="0.85"/><circle cx="542.52" cy="499.58" r="0.85"/></g>
<path d="M428.06 467.88 L439.76 446.62 L450.4 436.43 L454.65 432.81 L484.44 467.88 L535.49 501.88" stroke="#f01818" stroke-width="0.75" fill="none" stroke-linejoin="round"/>
<g fill="#f01818"><circle cx="428.06" cy="467.88" r="0.85"/><circle cx="439.76" cy="446.62" r="0.85"/><circle cx="450.4" cy="436.43" r="0.85"/><circle cx="454.65" cy="432.81" r="0.85"/><circle cx="484.44" cy="467.88" r="0.85"/><circle cx="535.49" cy="501.88" r="0.85"/></g>
</g>
<rect x="427" y="419.4" width="116.8" height="84.8" fill="none" stroke="#d6d6d6" stroke-width="0.6"/>
<rect x="490.82" y="430.69" width="42.55" height="21" rx="1.2" fill="#efefef"/>
<text x="493.62" y="437.49" class="lg">N = 1</text>
<text x="493.62" y="443.29" class="lg">Chl-a = 3.34 mg m<tspan dy="-1.6" font-size="3">−3</tspan></text>
<text x="493.62" y="448.29" class="lg">AOD = 0.12</text>
<text x="485.4" y="418.85" class="tt">Zeebrugge (Z)</text>
<text x="426.4" y="433.6" class="yk">0.025</text>
<text x="426.4" y="448" class="yk">0.020</text>
<text x="426.4" y="462.4" class="yk">0.015</text>
<text x="426.4" y="476.8" class="yk">0.010</text>
<text x="426.4" y="491.2" class="yk">0.005</text>
<text x="426.4" y="505.6" class="yk">0.000</text>
<text x="427.2" y="508.4" class="xk">440</text>
<text x="443.68" y="508.4" class="xk">505</text>
<text x="460.16" y="508.4" class="xk">570</text>
<text x="476.65" y="508.4" class="xk">635</text>
<text x="493.13" y="508.4" class="xk">700</text>
<text x="509.61" y="508.4" class="xk">765</text>
<text x="526.09" y="508.4" class="xk">830</text>
<text x="542.58" y="508.4" class="xk">895</text>
<text x="485.4" y="512.5" class="xl">Wavelength (nm)</text>
<text transform="translate(414.8 461.8) rotate(-90)" class="yl">Rrs (sr<tspan dy="-1.4" font-size="3">−1</tspan><tspan dy="1.4">)</tspan></text>
</g>
</svg>
</body></html>
